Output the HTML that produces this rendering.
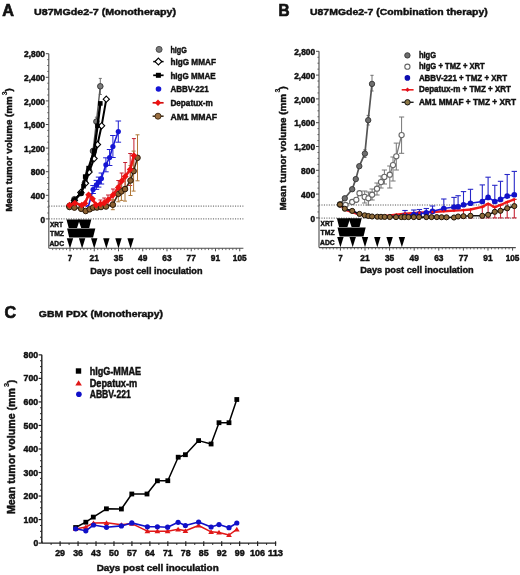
<!DOCTYPE html>
<html><head><meta charset="utf-8"><title>Figure</title>
<style>html,body{margin:0;padding:0;background:#fff;width:520px;height:575px;overflow:hidden;}
body{position:relative;font-family:"Liberation Sans", sans-serif;}</style></head>
<body>
<svg width="520" height="575" viewBox="0 0 520 575" style="position:absolute;left:0;top:0;will-change:transform">
<g font-family='"Liberation Sans", sans-serif'>
<rect width="520" height="575" fill="#fff"/>
<text x="2.2" y="15.8" font-size="16.6" font-weight="bold" fill="#111" stroke="#111" stroke-width="0.45" textLength="11.7" lengthAdjust="spacingAndGlyphs" style="stroke-width:0.7px">A</text>
<text x="34.0" y="15.0" font-size="9.8" font-weight="bold" fill="#111" stroke="#111" stroke-width="0.45" textLength="142.0" lengthAdjust="spacingAndGlyphs">U87MGde2-7 (Monotherapy)</text>
<text x="278.6" y="15.9" font-size="16.6" font-weight="bold" fill="#111" stroke="#111" stroke-width="0.45" textLength="11.1" lengthAdjust="spacingAndGlyphs" style="stroke-width:0.7px">B</text>
<text x="310.0" y="14.9" font-size="9.8" font-weight="bold" fill="#111" stroke="#111" stroke-width="0.45" textLength="177.7" lengthAdjust="spacingAndGlyphs">U87MGde2-7 (Combination therapy)</text>
<text x="4.5" y="318.3" font-size="17.0" font-weight="bold" fill="#111" stroke="#111" stroke-width="0.45" textLength="11.6" lengthAdjust="spacingAndGlyphs" style="stroke-width:0.7px">C</text>
<text x="38.8" y="317.3" font-size="9.8" font-weight="bold" fill="#111" stroke="#111" stroke-width="0.45" textLength="124.2" lengthAdjust="spacingAndGlyphs">GBM PDX (Monotherapy)</text>
<line x1="48.80" y1="53.70" x2="48.80" y2="248.30" stroke="#4a4a4a" stroke-width="1.1"/>
<line x1="45.80" y1="218.90" x2="48.80" y2="218.90" stroke="#4a4a4a" stroke-width="1"/>
<text x="45.0" y="222.6" font-size="8.4" font-weight="bold" fill="#111" stroke="#111" stroke-width="0.45" text-anchor="end" textLength="4.6" lengthAdjust="spacingAndGlyphs">0</text>
<line x1="45.80" y1="195.30" x2="48.80" y2="195.30" stroke="#4a4a4a" stroke-width="1"/>
<text x="45.0" y="199.0" font-size="8.4" font-weight="bold" fill="#111" stroke="#111" stroke-width="0.45" text-anchor="end" textLength="14.2" lengthAdjust="spacingAndGlyphs">400</text>
<line x1="45.80" y1="171.70" x2="48.80" y2="171.70" stroke="#4a4a4a" stroke-width="1"/>
<text x="45.0" y="175.4" font-size="8.4" font-weight="bold" fill="#111" stroke="#111" stroke-width="0.45" text-anchor="end" textLength="14.2" lengthAdjust="spacingAndGlyphs">800</text>
<line x1="45.80" y1="148.10" x2="48.80" y2="148.10" stroke="#4a4a4a" stroke-width="1"/>
<text x="45.0" y="151.8" font-size="8.4" font-weight="bold" fill="#111" stroke="#111" stroke-width="0.45" text-anchor="end" textLength="21.0" lengthAdjust="spacingAndGlyphs">1,200</text>
<line x1="45.80" y1="124.50" x2="48.80" y2="124.50" stroke="#4a4a4a" stroke-width="1"/>
<text x="45.0" y="128.20000000000002" font-size="8.4" font-weight="bold" fill="#111" stroke="#111" stroke-width="0.45" text-anchor="end" textLength="21.0" lengthAdjust="spacingAndGlyphs">1,600</text>
<line x1="45.80" y1="100.90" x2="48.80" y2="100.90" stroke="#4a4a4a" stroke-width="1"/>
<text x="45.0" y="104.60000000000001" font-size="8.4" font-weight="bold" fill="#111" stroke="#111" stroke-width="0.45" text-anchor="end" textLength="21.0" lengthAdjust="spacingAndGlyphs">2,000</text>
<line x1="45.80" y1="77.30" x2="48.80" y2="77.30" stroke="#4a4a4a" stroke-width="1"/>
<text x="45.0" y="81.00000000000001" font-size="8.4" font-weight="bold" fill="#111" stroke="#111" stroke-width="0.45" text-anchor="end" textLength="21.0" lengthAdjust="spacingAndGlyphs">2,400</text>
<line x1="45.80" y1="53.70" x2="48.80" y2="53.70" stroke="#4a4a4a" stroke-width="1"/>
<text x="45.0" y="57.40000000000002" font-size="8.4" font-weight="bold" fill="#111" stroke="#111" stroke-width="0.45" text-anchor="end" textLength="21.0" lengthAdjust="spacingAndGlyphs">2,800</text>
<line x1="47.20" y1="213.00" x2="48.80" y2="213.00" stroke="#4a4a4a" stroke-width="0.8"/>
<line x1="47.20" y1="207.10" x2="48.80" y2="207.10" stroke="#4a4a4a" stroke-width="0.8"/>
<line x1="47.20" y1="201.20" x2="48.80" y2="201.20" stroke="#4a4a4a" stroke-width="0.8"/>
<line x1="47.20" y1="189.40" x2="48.80" y2="189.40" stroke="#4a4a4a" stroke-width="0.8"/>
<line x1="47.20" y1="183.50" x2="48.80" y2="183.50" stroke="#4a4a4a" stroke-width="0.8"/>
<line x1="47.20" y1="177.60" x2="48.80" y2="177.60" stroke="#4a4a4a" stroke-width="0.8"/>
<line x1="47.20" y1="165.80" x2="48.80" y2="165.80" stroke="#4a4a4a" stroke-width="0.8"/>
<line x1="47.20" y1="159.90" x2="48.80" y2="159.90" stroke="#4a4a4a" stroke-width="0.8"/>
<line x1="47.20" y1="154.00" x2="48.80" y2="154.00" stroke="#4a4a4a" stroke-width="0.8"/>
<line x1="47.20" y1="142.20" x2="48.80" y2="142.20" stroke="#4a4a4a" stroke-width="0.8"/>
<line x1="47.20" y1="136.30" x2="48.80" y2="136.30" stroke="#4a4a4a" stroke-width="0.8"/>
<line x1="47.20" y1="130.40" x2="48.80" y2="130.40" stroke="#4a4a4a" stroke-width="0.8"/>
<line x1="47.20" y1="118.60" x2="48.80" y2="118.60" stroke="#4a4a4a" stroke-width="0.8"/>
<line x1="47.20" y1="112.70" x2="48.80" y2="112.70" stroke="#4a4a4a" stroke-width="0.8"/>
<line x1="47.20" y1="106.80" x2="48.80" y2="106.80" stroke="#4a4a4a" stroke-width="0.8"/>
<line x1="47.20" y1="95.00" x2="48.80" y2="95.00" stroke="#4a4a4a" stroke-width="0.8"/>
<line x1="47.20" y1="89.10" x2="48.80" y2="89.10" stroke="#4a4a4a" stroke-width="0.8"/>
<line x1="47.20" y1="83.20" x2="48.80" y2="83.20" stroke="#4a4a4a" stroke-width="0.8"/>
<line x1="47.20" y1="71.40" x2="48.80" y2="71.40" stroke="#4a4a4a" stroke-width="0.8"/>
<line x1="47.20" y1="65.50" x2="48.80" y2="65.50" stroke="#4a4a4a" stroke-width="0.8"/>
<line x1="47.20" y1="59.60" x2="48.80" y2="59.60" stroke="#4a4a4a" stroke-width="0.8"/>
<line x1="48.80" y1="248.30" x2="243.40" y2="248.30" stroke="#4a4a4a" stroke-width="1.1"/>
<line x1="70.00" y1="248.30" x2="70.00" y2="251.30" stroke="#4a4a4a" stroke-width="1"/>
<text x="70.0" y="261.0" font-size="8.4" font-weight="bold" fill="#111" stroke="#111" stroke-width="0.45" text-anchor="middle" textLength="4.4" lengthAdjust="spacingAndGlyphs">7</text>
<line x1="94.25" y1="248.30" x2="94.25" y2="251.30" stroke="#4a4a4a" stroke-width="1"/>
<text x="94.248" y="261.0" font-size="8.4" font-weight="bold" fill="#111" stroke="#111" stroke-width="0.45" text-anchor="middle" textLength="9.3" lengthAdjust="spacingAndGlyphs">21</text>
<line x1="118.50" y1="248.30" x2="118.50" y2="251.30" stroke="#4a4a4a" stroke-width="1"/>
<text x="118.49600000000001" y="261.0" font-size="8.4" font-weight="bold" fill="#111" stroke="#111" stroke-width="0.45" text-anchor="middle" textLength="9.3" lengthAdjust="spacingAndGlyphs">35</text>
<line x1="142.74" y1="248.30" x2="142.74" y2="251.30" stroke="#4a4a4a" stroke-width="1"/>
<text x="142.744" y="261.0" font-size="8.4" font-weight="bold" fill="#111" stroke="#111" stroke-width="0.45" text-anchor="middle" textLength="9.3" lengthAdjust="spacingAndGlyphs">49</text>
<line x1="166.99" y1="248.30" x2="166.99" y2="251.30" stroke="#4a4a4a" stroke-width="1"/>
<text x="166.99200000000002" y="261.0" font-size="8.4" font-weight="bold" fill="#111" stroke="#111" stroke-width="0.45" text-anchor="middle" textLength="9.3" lengthAdjust="spacingAndGlyphs">63</text>
<line x1="191.24" y1="248.30" x2="191.24" y2="251.30" stroke="#4a4a4a" stroke-width="1"/>
<text x="191.24" y="261.0" font-size="8.4" font-weight="bold" fill="#111" stroke="#111" stroke-width="0.45" text-anchor="middle" textLength="9.3" lengthAdjust="spacingAndGlyphs">77</text>
<line x1="215.49" y1="248.30" x2="215.49" y2="251.30" stroke="#4a4a4a" stroke-width="1"/>
<text x="215.488" y="261.0" font-size="8.4" font-weight="bold" fill="#111" stroke="#111" stroke-width="0.45" text-anchor="middle" textLength="9.3" lengthAdjust="spacingAndGlyphs">91</text>
<line x1="239.74" y1="248.30" x2="239.74" y2="251.30" stroke="#4a4a4a" stroke-width="1"/>
<text x="239.736" y="261.0" font-size="8.4" font-weight="bold" fill="#111" stroke="#111" stroke-width="0.45" text-anchor="middle" textLength="13.8" lengthAdjust="spacingAndGlyphs">105</text>
<line x1="52.68" y1="248.30" x2="52.68" y2="250.10" stroke="#4a4a4a" stroke-width="0.8"/>
<line x1="56.14" y1="248.30" x2="56.14" y2="250.10" stroke="#4a4a4a" stroke-width="0.8"/>
<line x1="59.61" y1="248.30" x2="59.61" y2="250.10" stroke="#4a4a4a" stroke-width="0.8"/>
<line x1="63.07" y1="248.30" x2="63.07" y2="250.10" stroke="#4a4a4a" stroke-width="0.8"/>
<line x1="66.54" y1="248.30" x2="66.54" y2="250.10" stroke="#4a4a4a" stroke-width="0.8"/>
<line x1="73.46" y1="248.30" x2="73.46" y2="250.10" stroke="#4a4a4a" stroke-width="0.8"/>
<line x1="76.93" y1="248.30" x2="76.93" y2="250.10" stroke="#4a4a4a" stroke-width="0.8"/>
<line x1="80.39" y1="248.30" x2="80.39" y2="250.10" stroke="#4a4a4a" stroke-width="0.8"/>
<line x1="83.86" y1="248.30" x2="83.86" y2="250.10" stroke="#4a4a4a" stroke-width="0.8"/>
<line x1="87.32" y1="248.30" x2="87.32" y2="250.10" stroke="#4a4a4a" stroke-width="0.8"/>
<line x1="90.78" y1="248.30" x2="90.78" y2="250.10" stroke="#4a4a4a" stroke-width="0.8"/>
<line x1="97.71" y1="248.30" x2="97.71" y2="250.10" stroke="#4a4a4a" stroke-width="0.8"/>
<line x1="101.18" y1="248.30" x2="101.18" y2="250.10" stroke="#4a4a4a" stroke-width="0.8"/>
<line x1="104.64" y1="248.30" x2="104.64" y2="250.10" stroke="#4a4a4a" stroke-width="0.8"/>
<line x1="108.10" y1="248.30" x2="108.10" y2="250.10" stroke="#4a4a4a" stroke-width="0.8"/>
<line x1="111.57" y1="248.30" x2="111.57" y2="250.10" stroke="#4a4a4a" stroke-width="0.8"/>
<line x1="115.03" y1="248.30" x2="115.03" y2="250.10" stroke="#4a4a4a" stroke-width="0.8"/>
<line x1="121.96" y1="248.30" x2="121.96" y2="250.10" stroke="#4a4a4a" stroke-width="0.8"/>
<line x1="125.42" y1="248.30" x2="125.42" y2="250.10" stroke="#4a4a4a" stroke-width="0.8"/>
<line x1="128.89" y1="248.30" x2="128.89" y2="250.10" stroke="#4a4a4a" stroke-width="0.8"/>
<line x1="132.35" y1="248.30" x2="132.35" y2="250.10" stroke="#4a4a4a" stroke-width="0.8"/>
<line x1="135.82" y1="248.30" x2="135.82" y2="250.10" stroke="#4a4a4a" stroke-width="0.8"/>
<line x1="139.28" y1="248.30" x2="139.28" y2="250.10" stroke="#4a4a4a" stroke-width="0.8"/>
<line x1="146.21" y1="248.30" x2="146.21" y2="250.10" stroke="#4a4a4a" stroke-width="0.8"/>
<line x1="149.67" y1="248.30" x2="149.67" y2="250.10" stroke="#4a4a4a" stroke-width="0.8"/>
<line x1="153.14" y1="248.30" x2="153.14" y2="250.10" stroke="#4a4a4a" stroke-width="0.8"/>
<line x1="156.60" y1="248.30" x2="156.60" y2="250.10" stroke="#4a4a4a" stroke-width="0.8"/>
<line x1="160.06" y1="248.30" x2="160.06" y2="250.10" stroke="#4a4a4a" stroke-width="0.8"/>
<line x1="163.53" y1="248.30" x2="163.53" y2="250.10" stroke="#4a4a4a" stroke-width="0.8"/>
<line x1="170.46" y1="248.30" x2="170.46" y2="250.10" stroke="#4a4a4a" stroke-width="0.8"/>
<line x1="173.92" y1="248.30" x2="173.92" y2="250.10" stroke="#4a4a4a" stroke-width="0.8"/>
<line x1="177.38" y1="248.30" x2="177.38" y2="250.10" stroke="#4a4a4a" stroke-width="0.8"/>
<line x1="180.85" y1="248.30" x2="180.85" y2="250.10" stroke="#4a4a4a" stroke-width="0.8"/>
<line x1="184.31" y1="248.30" x2="184.31" y2="250.10" stroke="#4a4a4a" stroke-width="0.8"/>
<line x1="187.78" y1="248.30" x2="187.78" y2="250.10" stroke="#4a4a4a" stroke-width="0.8"/>
<line x1="194.70" y1="248.30" x2="194.70" y2="250.10" stroke="#4a4a4a" stroke-width="0.8"/>
<line x1="198.17" y1="248.30" x2="198.17" y2="250.10" stroke="#4a4a4a" stroke-width="0.8"/>
<line x1="201.63" y1="248.30" x2="201.63" y2="250.10" stroke="#4a4a4a" stroke-width="0.8"/>
<line x1="205.10" y1="248.30" x2="205.10" y2="250.10" stroke="#4a4a4a" stroke-width="0.8"/>
<line x1="208.56" y1="248.30" x2="208.56" y2="250.10" stroke="#4a4a4a" stroke-width="0.8"/>
<line x1="212.02" y1="248.30" x2="212.02" y2="250.10" stroke="#4a4a4a" stroke-width="0.8"/>
<line x1="218.95" y1="248.30" x2="218.95" y2="250.10" stroke="#4a4a4a" stroke-width="0.8"/>
<line x1="222.42" y1="248.30" x2="222.42" y2="250.10" stroke="#4a4a4a" stroke-width="0.8"/>
<line x1="225.88" y1="248.30" x2="225.88" y2="250.10" stroke="#4a4a4a" stroke-width="0.8"/>
<line x1="229.34" y1="248.30" x2="229.34" y2="250.10" stroke="#4a4a4a" stroke-width="0.8"/>
<line x1="232.81" y1="248.30" x2="232.81" y2="250.10" stroke="#4a4a4a" stroke-width="0.8"/>
<line x1="236.27" y1="248.30" x2="236.27" y2="250.10" stroke="#4a4a4a" stroke-width="0.8"/>
<line x1="48.80" y1="206.10" x2="243.40" y2="206.10" stroke="#555" stroke-width="1" stroke-dasharray="1.1 1.35"/>
<line x1="48.80" y1="218.90" x2="243.40" y2="218.90" stroke="#555" stroke-width="1" stroke-dasharray="1.1 1.35"/>
<polygon points="66.50,219.40 79.80,219.40 77.00,228.00 68.70,228.00" fill="#000"/>
<polygon points="78.20,219.40 91.30,219.40 89.20,228.00 81.20,228.00" fill="#000"/>
<polygon points="67.10,228.60 95.30,228.60 93.10,237.60 69.20,237.60" fill="#000"/>
<polygon points="66.80,238.20 73.20,238.20 70.00,248.40" fill="#000"/>
<polygon points="78.92,238.20 85.32,238.20 82.12,248.40" fill="#000"/>
<polygon points="91.05,238.20 97.45,238.20 94.25,248.40" fill="#000"/>
<polygon points="103.17,238.20 109.57,238.20 106.37,248.40" fill="#000"/>
<polygon points="115.30,238.20 121.70,238.20 118.50,248.40" fill="#000"/>
<polygon points="127.42,238.20 133.82,238.20 130.62,248.40" fill="#000"/>
<text x="50.0" y="227.0" font-size="7.4" font-weight="bold" fill="#111" stroke="#111" stroke-width="0.45" textLength="13.0" lengthAdjust="spacingAndGlyphs">XRT</text>
<text x="50.0" y="236.4" font-size="7.4" font-weight="bold" fill="#111" stroke="#111" stroke-width="0.45" textLength="14.0" lengthAdjust="spacingAndGlyphs">TMZ</text>
<text x="49.5" y="246.4" font-size="7.4" font-weight="bold" fill="#111" stroke="#111" stroke-width="0.45" textLength="14.6" lengthAdjust="spacingAndGlyphs">ADC</text>
<text x="90.2" y="273.6" font-size="9.6" font-weight="bold" fill="#111" stroke="#111" stroke-width="0.45" textLength="112.3" lengthAdjust="spacingAndGlyphs">Days post cell inoculation</text>
<g transform="translate(12.2,211.8) rotate(-90)">
<text x="0" y="0" font-size="9.6" font-weight="bold" fill="#111" stroke="#111" stroke-width="0.45" textLength="115.5" lengthAdjust="spacingAndGlyphs">Mean tumor volume (mm</text>
<text x="116.6" y="-5.4" font-size="6.8" font-weight="bold" fill="#111" stroke="#111" stroke-width="0.2">3</text>
<text x="120.2" y="0" font-size="9.6" font-weight="bold" fill="#111" stroke="#111" stroke-width="0.45">)</text>
</g>
<line x1="319.00" y1="51.30" x2="319.00" y2="247.60" stroke="#4a4a4a" stroke-width="1.1"/>
<line x1="316.00" y1="217.90" x2="319.00" y2="217.90" stroke="#4a4a4a" stroke-width="1"/>
<text x="315.2" y="221.6" font-size="8.4" font-weight="bold" fill="#111" stroke="#111" stroke-width="0.45" text-anchor="end" textLength="4.6" lengthAdjust="spacingAndGlyphs">0</text>
<line x1="316.00" y1="194.10" x2="319.00" y2="194.10" stroke="#4a4a4a" stroke-width="1"/>
<text x="315.2" y="197.8" font-size="8.4" font-weight="bold" fill="#111" stroke="#111" stroke-width="0.45" text-anchor="end" textLength="14.2" lengthAdjust="spacingAndGlyphs">400</text>
<line x1="316.00" y1="170.30" x2="319.00" y2="170.30" stroke="#4a4a4a" stroke-width="1"/>
<text x="315.2" y="174.0" font-size="8.4" font-weight="bold" fill="#111" stroke="#111" stroke-width="0.45" text-anchor="end" textLength="14.2" lengthAdjust="spacingAndGlyphs">800</text>
<line x1="316.00" y1="146.50" x2="319.00" y2="146.50" stroke="#4a4a4a" stroke-width="1"/>
<text x="315.2" y="150.2" font-size="8.4" font-weight="bold" fill="#111" stroke="#111" stroke-width="0.45" text-anchor="end" textLength="21.0" lengthAdjust="spacingAndGlyphs">1,200</text>
<line x1="316.00" y1="122.70" x2="319.00" y2="122.70" stroke="#4a4a4a" stroke-width="1"/>
<text x="315.2" y="126.40000000000002" font-size="8.4" font-weight="bold" fill="#111" stroke="#111" stroke-width="0.45" text-anchor="end" textLength="21.0" lengthAdjust="spacingAndGlyphs">1,600</text>
<line x1="316.00" y1="98.90" x2="319.00" y2="98.90" stroke="#4a4a4a" stroke-width="1"/>
<text x="315.2" y="102.60000000000001" font-size="8.4" font-weight="bold" fill="#111" stroke="#111" stroke-width="0.45" text-anchor="end" textLength="21.0" lengthAdjust="spacingAndGlyphs">2,000</text>
<line x1="316.00" y1="75.10" x2="319.00" y2="75.10" stroke="#4a4a4a" stroke-width="1"/>
<text x="315.2" y="78.80000000000003" font-size="8.4" font-weight="bold" fill="#111" stroke="#111" stroke-width="0.45" text-anchor="end" textLength="21.0" lengthAdjust="spacingAndGlyphs">2,400</text>
<line x1="316.00" y1="51.30" x2="319.00" y2="51.30" stroke="#4a4a4a" stroke-width="1"/>
<text x="315.2" y="55.000000000000014" font-size="8.4" font-weight="bold" fill="#111" stroke="#111" stroke-width="0.45" text-anchor="end" textLength="21.0" lengthAdjust="spacingAndGlyphs">2,800</text>
<line x1="317.40" y1="211.95" x2="319.00" y2="211.95" stroke="#4a4a4a" stroke-width="0.8"/>
<line x1="317.40" y1="206.00" x2="319.00" y2="206.00" stroke="#4a4a4a" stroke-width="0.8"/>
<line x1="317.40" y1="200.05" x2="319.00" y2="200.05" stroke="#4a4a4a" stroke-width="0.8"/>
<line x1="317.40" y1="188.15" x2="319.00" y2="188.15" stroke="#4a4a4a" stroke-width="0.8"/>
<line x1="317.40" y1="182.20" x2="319.00" y2="182.20" stroke="#4a4a4a" stroke-width="0.8"/>
<line x1="317.40" y1="176.25" x2="319.00" y2="176.25" stroke="#4a4a4a" stroke-width="0.8"/>
<line x1="317.40" y1="164.35" x2="319.00" y2="164.35" stroke="#4a4a4a" stroke-width="0.8"/>
<line x1="317.40" y1="158.40" x2="319.00" y2="158.40" stroke="#4a4a4a" stroke-width="0.8"/>
<line x1="317.40" y1="152.45" x2="319.00" y2="152.45" stroke="#4a4a4a" stroke-width="0.8"/>
<line x1="317.40" y1="140.55" x2="319.00" y2="140.55" stroke="#4a4a4a" stroke-width="0.8"/>
<line x1="317.40" y1="134.60" x2="319.00" y2="134.60" stroke="#4a4a4a" stroke-width="0.8"/>
<line x1="317.40" y1="128.65" x2="319.00" y2="128.65" stroke="#4a4a4a" stroke-width="0.8"/>
<line x1="317.40" y1="116.75" x2="319.00" y2="116.75" stroke="#4a4a4a" stroke-width="0.8"/>
<line x1="317.40" y1="110.80" x2="319.00" y2="110.80" stroke="#4a4a4a" stroke-width="0.8"/>
<line x1="317.40" y1="104.85" x2="319.00" y2="104.85" stroke="#4a4a4a" stroke-width="0.8"/>
<line x1="317.40" y1="92.95" x2="319.00" y2="92.95" stroke="#4a4a4a" stroke-width="0.8"/>
<line x1="317.40" y1="87.00" x2="319.00" y2="87.00" stroke="#4a4a4a" stroke-width="0.8"/>
<line x1="317.40" y1="81.05" x2="319.00" y2="81.05" stroke="#4a4a4a" stroke-width="0.8"/>
<line x1="317.40" y1="69.15" x2="319.00" y2="69.15" stroke="#4a4a4a" stroke-width="0.8"/>
<line x1="317.40" y1="63.20" x2="319.00" y2="63.20" stroke="#4a4a4a" stroke-width="0.8"/>
<line x1="317.40" y1="57.25" x2="319.00" y2="57.25" stroke="#4a4a4a" stroke-width="0.8"/>
<line x1="319.00" y1="247.60" x2="515.80" y2="247.60" stroke="#4a4a4a" stroke-width="1.1"/>
<line x1="340.40" y1="247.60" x2="340.40" y2="250.60" stroke="#4a4a4a" stroke-width="1"/>
<text x="340.4" y="260.5" font-size="8.4" font-weight="bold" fill="#111" stroke="#111" stroke-width="0.45" text-anchor="middle" textLength="4.4" lengthAdjust="spacingAndGlyphs">7</text>
<line x1="365.00" y1="247.60" x2="365.00" y2="250.60" stroke="#4a4a4a" stroke-width="1"/>
<text x="364.998" y="260.5" font-size="8.4" font-weight="bold" fill="#111" stroke="#111" stroke-width="0.45" text-anchor="middle" textLength="9.3" lengthAdjust="spacingAndGlyphs">21</text>
<line x1="389.60" y1="247.60" x2="389.60" y2="250.60" stroke="#4a4a4a" stroke-width="1"/>
<text x="389.596" y="260.5" font-size="8.4" font-weight="bold" fill="#111" stroke="#111" stroke-width="0.45" text-anchor="middle" textLength="9.3" lengthAdjust="spacingAndGlyphs">35</text>
<line x1="414.19" y1="247.60" x2="414.19" y2="250.60" stroke="#4a4a4a" stroke-width="1"/>
<text x="414.19399999999996" y="260.5" font-size="8.4" font-weight="bold" fill="#111" stroke="#111" stroke-width="0.45" text-anchor="middle" textLength="9.3" lengthAdjust="spacingAndGlyphs">49</text>
<line x1="438.79" y1="247.60" x2="438.79" y2="250.60" stroke="#4a4a4a" stroke-width="1"/>
<text x="438.792" y="260.5" font-size="8.4" font-weight="bold" fill="#111" stroke="#111" stroke-width="0.45" text-anchor="middle" textLength="9.3" lengthAdjust="spacingAndGlyphs">63</text>
<line x1="463.39" y1="247.60" x2="463.39" y2="250.60" stroke="#4a4a4a" stroke-width="1"/>
<text x="463.39" y="260.5" font-size="8.4" font-weight="bold" fill="#111" stroke="#111" stroke-width="0.45" text-anchor="middle" textLength="9.3" lengthAdjust="spacingAndGlyphs">77</text>
<line x1="487.99" y1="247.60" x2="487.99" y2="250.60" stroke="#4a4a4a" stroke-width="1"/>
<text x="487.98799999999994" y="260.5" font-size="8.4" font-weight="bold" fill="#111" stroke="#111" stroke-width="0.45" text-anchor="middle" textLength="9.3" lengthAdjust="spacingAndGlyphs">91</text>
<line x1="512.59" y1="247.60" x2="512.59" y2="250.60" stroke="#4a4a4a" stroke-width="1"/>
<text x="512.586" y="260.5" font-size="8.4" font-weight="bold" fill="#111" stroke="#111" stroke-width="0.45" text-anchor="middle" textLength="13.8" lengthAdjust="spacingAndGlyphs">105</text>
<line x1="322.83" y1="247.60" x2="322.83" y2="249.40" stroke="#4a4a4a" stroke-width="0.8"/>
<line x1="326.34" y1="247.60" x2="326.34" y2="249.40" stroke="#4a4a4a" stroke-width="0.8"/>
<line x1="329.86" y1="247.60" x2="329.86" y2="249.40" stroke="#4a4a4a" stroke-width="0.8"/>
<line x1="333.37" y1="247.60" x2="333.37" y2="249.40" stroke="#4a4a4a" stroke-width="0.8"/>
<line x1="336.89" y1="247.60" x2="336.89" y2="249.40" stroke="#4a4a4a" stroke-width="0.8"/>
<line x1="343.91" y1="247.60" x2="343.91" y2="249.40" stroke="#4a4a4a" stroke-width="0.8"/>
<line x1="347.43" y1="247.60" x2="347.43" y2="249.40" stroke="#4a4a4a" stroke-width="0.8"/>
<line x1="350.94" y1="247.60" x2="350.94" y2="249.40" stroke="#4a4a4a" stroke-width="0.8"/>
<line x1="354.46" y1="247.60" x2="354.46" y2="249.40" stroke="#4a4a4a" stroke-width="0.8"/>
<line x1="357.97" y1="247.60" x2="357.97" y2="249.40" stroke="#4a4a4a" stroke-width="0.8"/>
<line x1="361.48" y1="247.60" x2="361.48" y2="249.40" stroke="#4a4a4a" stroke-width="0.8"/>
<line x1="368.51" y1="247.60" x2="368.51" y2="249.40" stroke="#4a4a4a" stroke-width="0.8"/>
<line x1="372.03" y1="247.60" x2="372.03" y2="249.40" stroke="#4a4a4a" stroke-width="0.8"/>
<line x1="375.54" y1="247.60" x2="375.54" y2="249.40" stroke="#4a4a4a" stroke-width="0.8"/>
<line x1="379.05" y1="247.60" x2="379.05" y2="249.40" stroke="#4a4a4a" stroke-width="0.8"/>
<line x1="382.57" y1="247.60" x2="382.57" y2="249.40" stroke="#4a4a4a" stroke-width="0.8"/>
<line x1="386.08" y1="247.60" x2="386.08" y2="249.40" stroke="#4a4a4a" stroke-width="0.8"/>
<line x1="393.11" y1="247.60" x2="393.11" y2="249.40" stroke="#4a4a4a" stroke-width="0.8"/>
<line x1="396.62" y1="247.60" x2="396.62" y2="249.40" stroke="#4a4a4a" stroke-width="0.8"/>
<line x1="400.14" y1="247.60" x2="400.14" y2="249.40" stroke="#4a4a4a" stroke-width="0.8"/>
<line x1="403.65" y1="247.60" x2="403.65" y2="249.40" stroke="#4a4a4a" stroke-width="0.8"/>
<line x1="407.17" y1="247.60" x2="407.17" y2="249.40" stroke="#4a4a4a" stroke-width="0.8"/>
<line x1="410.68" y1="247.60" x2="410.68" y2="249.40" stroke="#4a4a4a" stroke-width="0.8"/>
<line x1="417.71" y1="247.60" x2="417.71" y2="249.40" stroke="#4a4a4a" stroke-width="0.8"/>
<line x1="421.22" y1="247.60" x2="421.22" y2="249.40" stroke="#4a4a4a" stroke-width="0.8"/>
<line x1="424.74" y1="247.60" x2="424.74" y2="249.40" stroke="#4a4a4a" stroke-width="0.8"/>
<line x1="428.25" y1="247.60" x2="428.25" y2="249.40" stroke="#4a4a4a" stroke-width="0.8"/>
<line x1="431.76" y1="247.60" x2="431.76" y2="249.40" stroke="#4a4a4a" stroke-width="0.8"/>
<line x1="435.28" y1="247.60" x2="435.28" y2="249.40" stroke="#4a4a4a" stroke-width="0.8"/>
<line x1="442.31" y1="247.60" x2="442.31" y2="249.40" stroke="#4a4a4a" stroke-width="0.8"/>
<line x1="445.82" y1="247.60" x2="445.82" y2="249.40" stroke="#4a4a4a" stroke-width="0.8"/>
<line x1="449.33" y1="247.60" x2="449.33" y2="249.40" stroke="#4a4a4a" stroke-width="0.8"/>
<line x1="452.85" y1="247.60" x2="452.85" y2="249.40" stroke="#4a4a4a" stroke-width="0.8"/>
<line x1="456.36" y1="247.60" x2="456.36" y2="249.40" stroke="#4a4a4a" stroke-width="0.8"/>
<line x1="459.88" y1="247.60" x2="459.88" y2="249.40" stroke="#4a4a4a" stroke-width="0.8"/>
<line x1="466.90" y1="247.60" x2="466.90" y2="249.40" stroke="#4a4a4a" stroke-width="0.8"/>
<line x1="470.42" y1="247.60" x2="470.42" y2="249.40" stroke="#4a4a4a" stroke-width="0.8"/>
<line x1="473.93" y1="247.60" x2="473.93" y2="249.40" stroke="#4a4a4a" stroke-width="0.8"/>
<line x1="477.45" y1="247.60" x2="477.45" y2="249.40" stroke="#4a4a4a" stroke-width="0.8"/>
<line x1="480.96" y1="247.60" x2="480.96" y2="249.40" stroke="#4a4a4a" stroke-width="0.8"/>
<line x1="484.47" y1="247.60" x2="484.47" y2="249.40" stroke="#4a4a4a" stroke-width="0.8"/>
<line x1="491.50" y1="247.60" x2="491.50" y2="249.40" stroke="#4a4a4a" stroke-width="0.8"/>
<line x1="495.02" y1="247.60" x2="495.02" y2="249.40" stroke="#4a4a4a" stroke-width="0.8"/>
<line x1="498.53" y1="247.60" x2="498.53" y2="249.40" stroke="#4a4a4a" stroke-width="0.8"/>
<line x1="502.04" y1="247.60" x2="502.04" y2="249.40" stroke="#4a4a4a" stroke-width="0.8"/>
<line x1="505.56" y1="247.60" x2="505.56" y2="249.40" stroke="#4a4a4a" stroke-width="0.8"/>
<line x1="509.07" y1="247.60" x2="509.07" y2="249.40" stroke="#4a4a4a" stroke-width="0.8"/>
<line x1="319.00" y1="205.00" x2="515.80" y2="205.00" stroke="#555" stroke-width="1" stroke-dasharray="1.1 1.35"/>
<line x1="319.00" y1="218.10" x2="515.80" y2="218.10" stroke="#555" stroke-width="1" stroke-dasharray="1.1 1.35"/>
<polygon points="336.90,218.30 350.20,218.30 347.40,226.90 339.10,226.90" fill="#000"/>
<polygon points="348.60,218.30 361.70,218.30 359.60,226.90 351.60,226.90" fill="#000"/>
<polygon points="337.50,227.50 365.70,227.50 363.50,236.50 339.60,236.50" fill="#000"/>
<polygon points="337.20,237.10 343.60,237.10 340.40,247.30" fill="#000"/>
<polygon points="349.50,237.10 355.90,237.10 352.70,247.30" fill="#000"/>
<polygon points="361.80,237.10 368.20,237.10 365.00,247.30" fill="#000"/>
<polygon points="374.10,237.10 380.50,237.10 377.30,247.30" fill="#000"/>
<polygon points="386.40,237.10 392.80,237.10 389.60,247.30" fill="#000"/>
<polygon points="398.69,237.10 405.09,237.10 401.89,247.30" fill="#000"/>
<text x="320.6" y="225.9" font-size="7.4" font-weight="bold" fill="#111" stroke="#111" stroke-width="0.45" textLength="13.0" lengthAdjust="spacingAndGlyphs">XRT</text>
<text x="320.6" y="235.3" font-size="7.4" font-weight="bold" fill="#111" stroke="#111" stroke-width="0.45" textLength="14.0" lengthAdjust="spacingAndGlyphs">TMZ</text>
<text x="320.1" y="245.3" font-size="7.4" font-weight="bold" fill="#111" stroke="#111" stroke-width="0.45" textLength="14.6" lengthAdjust="spacingAndGlyphs">ADC</text>
<text x="360.2" y="272.9" font-size="9.6" font-weight="bold" fill="#111" stroke="#111" stroke-width="0.45" textLength="113.5" lengthAdjust="spacingAndGlyphs">Days post cell inoculation</text>
<g transform="translate(285.6,210.6) rotate(-90)">
<text x="0" y="0" font-size="9.6" font-weight="bold" fill="#111" stroke="#111" stroke-width="0.45" textLength="116.7" lengthAdjust="spacingAndGlyphs">Mean tumor volume (mm</text>
<text x="118.0" y="-5.6" font-size="7.0" font-weight="bold" fill="#111" stroke="#111" stroke-width="0.2">3</text>
<text x="121.2" y="0" font-size="9.6" font-weight="bold" fill="#111" stroke="#111" stroke-width="0.45">)</text>
</g>
<line x1="96.40" y1="117.20" x2="96.40" y2="126.00" stroke="#707070" stroke-width="1"/>
<line x1="94.90" y1="117.20" x2="97.90" y2="117.20" stroke="#707070" stroke-width="1"/>
<line x1="94.90" y1="126.00" x2="97.90" y2="126.00" stroke="#707070" stroke-width="1"/>
<line x1="100.30" y1="78.40" x2="100.30" y2="94.50" stroke="#707070" stroke-width="1"/>
<line x1="98.80" y1="78.40" x2="101.80" y2="78.40" stroke="#707070" stroke-width="1"/>
<line x1="98.80" y1="94.50" x2="101.80" y2="94.50" stroke="#707070" stroke-width="1"/>
<line x1="93.10" y1="185.50" x2="93.10" y2="193.50" stroke="#2020d0" stroke-width="1"/>
<line x1="90.30" y1="185.50" x2="95.90" y2="185.50" stroke="#2020d0" stroke-width="1"/>
<line x1="90.30" y1="193.50" x2="95.90" y2="193.50" stroke="#2020d0" stroke-width="1"/>
<line x1="96.40" y1="180.40" x2="96.40" y2="189.40" stroke="#2020d0" stroke-width="1"/>
<line x1="93.60" y1="180.40" x2="99.20" y2="180.40" stroke="#2020d0" stroke-width="1"/>
<line x1="93.60" y1="189.40" x2="99.20" y2="189.40" stroke="#2020d0" stroke-width="1"/>
<line x1="98.60" y1="177.10" x2="98.60" y2="187.10" stroke="#2020d0" stroke-width="1"/>
<line x1="95.80" y1="177.10" x2="101.40" y2="177.10" stroke="#2020d0" stroke-width="1"/>
<line x1="95.80" y1="187.10" x2="101.40" y2="187.10" stroke="#2020d0" stroke-width="1"/>
<line x1="101.40" y1="173.00" x2="101.40" y2="184.00" stroke="#2020d0" stroke-width="1"/>
<line x1="98.60" y1="173.00" x2="104.20" y2="173.00" stroke="#2020d0" stroke-width="1"/>
<line x1="98.60" y1="184.00" x2="104.20" y2="184.00" stroke="#2020d0" stroke-width="1"/>
<line x1="105.90" y1="157.80" x2="105.90" y2="171.80" stroke="#2020d0" stroke-width="1"/>
<line x1="103.10" y1="157.80" x2="108.70" y2="157.80" stroke="#2020d0" stroke-width="1"/>
<line x1="103.10" y1="171.80" x2="108.70" y2="171.80" stroke="#2020d0" stroke-width="1"/>
<line x1="109.60" y1="149.50" x2="109.60" y2="165.50" stroke="#2020d0" stroke-width="1"/>
<line x1="106.80" y1="149.50" x2="112.40" y2="149.50" stroke="#2020d0" stroke-width="1"/>
<line x1="106.80" y1="165.50" x2="112.40" y2="165.50" stroke="#2020d0" stroke-width="1"/>
<line x1="112.90" y1="135.50" x2="112.90" y2="157.50" stroke="#2020d0" stroke-width="1"/>
<line x1="110.10" y1="135.50" x2="115.70" y2="135.50" stroke="#2020d0" stroke-width="1"/>
<line x1="110.10" y1="157.50" x2="115.70" y2="157.50" stroke="#2020d0" stroke-width="1"/>
<line x1="118.30" y1="121.00" x2="118.30" y2="142.20" stroke="#2020d0" stroke-width="1"/>
<line x1="115.50" y1="121.00" x2="121.10" y2="121.00" stroke="#2020d0" stroke-width="1"/>
<line x1="115.50" y1="142.20" x2="121.10" y2="142.20" stroke="#2020d0" stroke-width="1"/>
<line x1="100.50" y1="200.00" x2="100.50" y2="208.00" stroke="#c42030" stroke-width="1.0"/>
<line x1="98.50" y1="200.00" x2="102.50" y2="200.00" stroke="#c42030" stroke-width="1.0"/>
<line x1="98.50" y1="208.00" x2="102.50" y2="208.00" stroke="#c42030" stroke-width="1.0"/>
<line x1="104.20" y1="198.00" x2="104.20" y2="208.00" stroke="#c42030" stroke-width="1.0"/>
<line x1="102.20" y1="198.00" x2="106.20" y2="198.00" stroke="#c42030" stroke-width="1.0"/>
<line x1="102.20" y1="208.00" x2="106.20" y2="208.00" stroke="#c42030" stroke-width="1.0"/>
<line x1="108.00" y1="195.00" x2="108.00" y2="205.00" stroke="#c42030" stroke-width="1.0"/>
<line x1="106.00" y1="195.00" x2="110.00" y2="195.00" stroke="#c42030" stroke-width="1.0"/>
<line x1="106.00" y1="205.00" x2="110.00" y2="205.00" stroke="#c42030" stroke-width="1.0"/>
<line x1="113.00" y1="189.00" x2="113.00" y2="201.00" stroke="#c42030" stroke-width="1.0"/>
<line x1="111.00" y1="189.00" x2="115.00" y2="189.00" stroke="#c42030" stroke-width="1.0"/>
<line x1="111.00" y1="201.00" x2="115.00" y2="201.00" stroke="#c42030" stroke-width="1.0"/>
<line x1="118.30" y1="180.50" x2="118.30" y2="194.50" stroke="#c42030" stroke-width="1.0"/>
<line x1="116.30" y1="180.50" x2="120.30" y2="180.50" stroke="#c42030" stroke-width="1.0"/>
<line x1="116.30" y1="194.50" x2="120.30" y2="194.50" stroke="#c42030" stroke-width="1.0"/>
<line x1="121.70" y1="173.00" x2="121.70" y2="189.00" stroke="#c42030" stroke-width="1.0"/>
<line x1="119.70" y1="173.00" x2="123.70" y2="173.00" stroke="#c42030" stroke-width="1.0"/>
<line x1="119.70" y1="189.00" x2="123.70" y2="189.00" stroke="#c42030" stroke-width="1.0"/>
<line x1="125.20" y1="162.50" x2="125.20" y2="190.50" stroke="#c42030" stroke-width="1.0"/>
<line x1="123.20" y1="162.50" x2="127.20" y2="162.50" stroke="#c42030" stroke-width="1.0"/>
<line x1="123.20" y1="190.50" x2="127.20" y2="190.50" stroke="#c42030" stroke-width="1.0"/>
<line x1="130.20" y1="153.50" x2="130.20" y2="185.50" stroke="#c42030" stroke-width="1.0"/>
<line x1="128.20" y1="153.50" x2="132.20" y2="153.50" stroke="#c42030" stroke-width="1.0"/>
<line x1="128.20" y1="185.50" x2="132.20" y2="185.50" stroke="#c42030" stroke-width="1.0"/>
<line x1="133.90" y1="138.60" x2="133.90" y2="172.60" stroke="#c42030" stroke-width="1.0"/>
<line x1="131.90" y1="138.60" x2="135.90" y2="138.60" stroke="#c42030" stroke-width="1.0"/>
<line x1="131.90" y1="172.60" x2="135.90" y2="172.60" stroke="#c42030" stroke-width="1.0"/>
<line x1="112.80" y1="199.70" x2="112.80" y2="209.70" stroke="#b07838" stroke-width="1.0"/>
<line x1="110.80" y1="199.70" x2="114.80" y2="199.70" stroke="#b07838" stroke-width="1.0"/>
<line x1="110.80" y1="209.70" x2="114.80" y2="209.70" stroke="#b07838" stroke-width="1.0"/>
<line x1="118.30" y1="185.80" x2="118.30" y2="201.80" stroke="#b07838" stroke-width="1.0"/>
<line x1="116.30" y1="185.80" x2="120.30" y2="185.80" stroke="#b07838" stroke-width="1.0"/>
<line x1="116.30" y1="201.80" x2="120.30" y2="201.80" stroke="#b07838" stroke-width="1.0"/>
<line x1="121.40" y1="182.40" x2="121.40" y2="200.40" stroke="#b07838" stroke-width="1.0"/>
<line x1="119.40" y1="182.40" x2="123.40" y2="182.40" stroke="#b07838" stroke-width="1.0"/>
<line x1="119.40" y1="200.40" x2="123.40" y2="200.40" stroke="#b07838" stroke-width="1.0"/>
<line x1="125.00" y1="177.10" x2="125.00" y2="201.10" stroke="#b07838" stroke-width="1.0"/>
<line x1="123.00" y1="177.10" x2="127.00" y2="177.10" stroke="#b07838" stroke-width="1.0"/>
<line x1="123.00" y1="201.10" x2="127.00" y2="201.10" stroke="#b07838" stroke-width="1.0"/>
<line x1="130.50" y1="165.50" x2="130.50" y2="195.50" stroke="#b07838" stroke-width="1.0"/>
<line x1="128.50" y1="165.50" x2="132.50" y2="165.50" stroke="#b07838" stroke-width="1.0"/>
<line x1="128.50" y1="195.50" x2="132.50" y2="195.50" stroke="#b07838" stroke-width="1.0"/>
<line x1="133.60" y1="151.10" x2="133.60" y2="191.10" stroke="#b07838" stroke-width="1.0"/>
<line x1="131.60" y1="151.10" x2="135.60" y2="151.10" stroke="#b07838" stroke-width="1.0"/>
<line x1="131.60" y1="191.10" x2="135.60" y2="191.10" stroke="#b07838" stroke-width="1.0"/>
<line x1="137.50" y1="134.80" x2="137.50" y2="180.80" stroke="#b07838" stroke-width="1.0"/>
<line x1="135.50" y1="134.80" x2="139.50" y2="134.80" stroke="#b07838" stroke-width="1.0"/>
<line x1="135.50" y1="180.80" x2="139.50" y2="180.80" stroke="#b07838" stroke-width="1.0"/>
<polyline points="85.70,206.50 88.60,205.50 93.10,189.50 96.40,184.90 98.60,182.10 101.40,178.50 105.90,164.80 109.60,157.50 112.90,146.50 118.30,131.60" fill="none" stroke="#1818d8" stroke-width="1.6" stroke-linejoin="round"/>
<circle cx="93.10" cy="189.50" r="2.6" fill="#1515d5" stroke="none" stroke-width="0"/>
<circle cx="96.40" cy="184.90" r="2.6" fill="#1515d5" stroke="none" stroke-width="0"/>
<circle cx="98.60" cy="182.10" r="2.6" fill="#1515d5" stroke="none" stroke-width="0"/>
<circle cx="101.40" cy="178.50" r="2.6" fill="#1515d5" stroke="none" stroke-width="0"/>
<circle cx="105.90" cy="164.80" r="2.6" fill="#1515d5" stroke="none" stroke-width="0"/>
<circle cx="109.60" cy="157.50" r="2.6" fill="#1515d5" stroke="none" stroke-width="0"/>
<circle cx="112.90" cy="146.50" r="2.6" fill="#1515d5" stroke="none" stroke-width="0"/>
<circle cx="118.30" cy="131.60" r="2.6" fill="#1515d5" stroke="none" stroke-width="0"/>
<polyline points="69.50,206.00 74.40,199.20 81.20,193.00 85.00,182.50 89.00,170.50 93.00,151.00 96.40,121.60 100.30,86.30" fill="none" stroke="#5a5a5a" stroke-width="1.4" stroke-linejoin="round"/>
<circle cx="69.50" cy="206.00" r="2.8" fill="#7a7a7a" stroke="#303030" stroke-width="0.9"/>
<circle cx="74.40" cy="199.20" r="2.8" fill="#7a7a7a" stroke="#303030" stroke-width="0.9"/>
<circle cx="81.20" cy="193.00" r="2.8" fill="#7a7a7a" stroke="#303030" stroke-width="0.9"/>
<circle cx="85.00" cy="182.50" r="2.8" fill="#7a7a7a" stroke="#303030" stroke-width="0.9"/>
<circle cx="89.00" cy="170.50" r="2.8" fill="#7a7a7a" stroke="#303030" stroke-width="0.9"/>
<circle cx="93.00" cy="151.00" r="2.8" fill="#7a7a7a" stroke="#303030" stroke-width="0.9"/>
<circle cx="96.40" cy="121.60" r="2.8" fill="#7a7a7a" stroke="#303030" stroke-width="0.9"/>
<circle cx="100.30" cy="86.30" r="2.8" fill="#7a7a7a" stroke="#303030" stroke-width="0.9"/>
<polyline points="69.50,206.00 74.40,200.50 80.80,192.50 85.50,183.30 89.10,172.00 94.10,158.60 97.50,144.50 101.60,125.80 106.30,99.20" fill="none" stroke="#000" stroke-width="2.0" stroke-linejoin="round"/>
<polygon points="69.50,202.90 72.60,206.00 69.50,209.10 66.40,206.00" fill="#fff" stroke="#000" stroke-width="1.1"/>
<polygon points="74.40,197.40 77.50,200.50 74.40,203.60 71.30,200.50" fill="#fff" stroke="#000" stroke-width="1.1"/>
<polygon points="80.80,189.40 83.90,192.50 80.80,195.60 77.70,192.50" fill="#fff" stroke="#000" stroke-width="1.1"/>
<polygon points="85.50,180.20 88.60,183.30 85.50,186.40 82.40,183.30" fill="#fff" stroke="#000" stroke-width="1.1"/>
<polygon points="89.10,168.90 92.20,172.00 89.10,175.10 86.00,172.00" fill="#fff" stroke="#000" stroke-width="1.1"/>
<polygon points="94.10,155.50 97.20,158.60 94.10,161.70 91.00,158.60" fill="#fff" stroke="#000" stroke-width="1.1"/>
<polygon points="97.50,141.40 100.60,144.50 97.50,147.60 94.40,144.50" fill="#fff" stroke="#000" stroke-width="1.1"/>
<polygon points="101.60,122.70 104.70,125.80 101.60,128.90 98.50,125.80" fill="#fff" stroke="#000" stroke-width="1.1"/>
<polygon points="106.30,96.10 109.40,99.20 106.30,102.30 103.20,99.20" fill="#fff" stroke="#000" stroke-width="1.1"/>
<polyline points="69.50,206.00 74.40,200.00 81.00,193.50 83.50,186.20 85.20,176.60 88.60,168.10 94.10,150.80 97.50,125.80 100.30,103.40" fill="none" stroke="#000" stroke-width="2.4" stroke-linejoin="round"/>
<rect x="67.20" y="203.70" width="4.6" height="4.6" fill="#000"/>
<rect x="72.10" y="197.70" width="4.6" height="4.6" fill="#000"/>
<rect x="78.70" y="191.20" width="4.6" height="4.6" fill="#000"/>
<rect x="81.20" y="183.90" width="4.6" height="4.6" fill="#000"/>
<rect x="82.90" y="174.30" width="4.6" height="4.6" fill="#000"/>
<rect x="86.30" y="165.80" width="4.6" height="4.6" fill="#000"/>
<rect x="91.80" y="148.50" width="4.6" height="4.6" fill="#000"/>
<rect x="95.20" y="123.50" width="4.6" height="4.6" fill="#000"/>
<rect x="98.00" y="101.10" width="4.6" height="4.6" fill="#000"/>
<polyline points="69.50,207.00 74.40,207.60 81.20,208.80 85.70,211.00 89.70,209.30 93.10,207.60 97.00,207.50 101.00,207.00 106.00,206.50 112.80,204.70 118.30,193.80 121.40,191.40 125.00,189.10 130.50,180.50 133.60,171.10 137.50,157.80" fill="none" stroke="#3a2810" stroke-width="1.5" stroke-linejoin="round"/>
<circle cx="69.50" cy="207.00" r="2.8" fill="#8c6030" stroke="#2a1808" stroke-width="1.0"/>
<circle cx="74.40" cy="207.60" r="2.8" fill="#8c6030" stroke="#2a1808" stroke-width="1.0"/>
<circle cx="81.20" cy="208.80" r="2.8" fill="#8c6030" stroke="#2a1808" stroke-width="1.0"/>
<circle cx="85.70" cy="211.00" r="2.8" fill="#8c6030" stroke="#2a1808" stroke-width="1.0"/>
<circle cx="89.70" cy="209.30" r="2.8" fill="#8c6030" stroke="#2a1808" stroke-width="1.0"/>
<circle cx="93.10" cy="207.60" r="2.8" fill="#8c6030" stroke="#2a1808" stroke-width="1.0"/>
<circle cx="97.00" cy="207.50" r="2.8" fill="#8c6030" stroke="#2a1808" stroke-width="1.0"/>
<circle cx="101.00" cy="207.00" r="2.8" fill="#8c6030" stroke="#2a1808" stroke-width="1.0"/>
<circle cx="106.00" cy="206.50" r="2.8" fill="#8c6030" stroke="#2a1808" stroke-width="1.0"/>
<circle cx="112.80" cy="204.70" r="2.8" fill="#8c6030" stroke="#2a1808" stroke-width="1.0"/>
<circle cx="118.30" cy="193.80" r="2.8" fill="#8c6030" stroke="#2a1808" stroke-width="1.0"/>
<circle cx="121.40" cy="191.40" r="2.8" fill="#8c6030" stroke="#2a1808" stroke-width="1.0"/>
<circle cx="125.00" cy="189.10" r="2.8" fill="#8c6030" stroke="#2a1808" stroke-width="1.0"/>
<circle cx="130.50" cy="180.50" r="2.8" fill="#8c6030" stroke="#2a1808" stroke-width="1.0"/>
<circle cx="133.60" cy="171.10" r="2.8" fill="#8c6030" stroke="#2a1808" stroke-width="1.0"/>
<circle cx="137.50" cy="157.80" r="2.8" fill="#8c6030" stroke="#2a1808" stroke-width="1.0"/>
<polyline points="69.50,205.20 74.80,203.10 81.80,205.20 84.90,203.40 88.60,194.80 92.50,198.80 96.00,205.00 100.50,204.00 104.20,203.00 108.00,200.00 113.00,195.00 118.30,187.50 121.70,181.00 125.20,176.50 130.20,169.50 133.90,155.60" fill="none" stroke="#e81818" stroke-width="2.6" stroke-linejoin="round"/>
<polygon points="69.50,201.80 72.90,205.20 69.50,208.60 66.10,205.20" fill="#ee1111" stroke="none" stroke-width="0"/>
<polygon points="74.80,199.70 78.20,203.10 74.80,206.50 71.40,203.10" fill="#ee1111" stroke="none" stroke-width="0"/>
<polygon points="81.80,201.80 85.20,205.20 81.80,208.60 78.40,205.20" fill="#ee1111" stroke="none" stroke-width="0"/>
<polygon points="84.90,200.00 88.30,203.40 84.90,206.80 81.50,203.40" fill="#ee1111" stroke="none" stroke-width="0"/>
<polygon points="88.60,191.40 92.00,194.80 88.60,198.20 85.20,194.80" fill="#ee1111" stroke="none" stroke-width="0"/>
<polygon points="92.50,195.40 95.90,198.80 92.50,202.20 89.10,198.80" fill="#ee1111" stroke="none" stroke-width="0"/>
<polygon points="96.00,201.60 99.40,205.00 96.00,208.40 92.60,205.00" fill="#ee1111" stroke="none" stroke-width="0"/>
<polygon points="100.50,200.60 103.90,204.00 100.50,207.40 97.10,204.00" fill="#ee1111" stroke="none" stroke-width="0"/>
<polygon points="104.20,199.60 107.60,203.00 104.20,206.40 100.80,203.00" fill="#ee1111" stroke="none" stroke-width="0"/>
<polygon points="108.00,196.60 111.40,200.00 108.00,203.40 104.60,200.00" fill="#ee1111" stroke="none" stroke-width="0"/>
<polygon points="113.00,191.60 116.40,195.00 113.00,198.40 109.60,195.00" fill="#ee1111" stroke="none" stroke-width="0"/>
<polygon points="118.30,184.10 121.70,187.50 118.30,190.90 114.90,187.50" fill="#ee1111" stroke="none" stroke-width="0"/>
<polygon points="121.70,177.60 125.10,181.00 121.70,184.40 118.30,181.00" fill="#ee1111" stroke="none" stroke-width="0"/>
<polygon points="125.20,173.10 128.60,176.50 125.20,179.90 121.80,176.50" fill="#ee1111" stroke="none" stroke-width="0"/>
<polygon points="130.20,166.10 133.60,169.50 130.20,172.90 126.80,169.50" fill="#ee1111" stroke="none" stroke-width="0"/>
<polygon points="133.90,152.20 137.30,155.60 133.90,159.00 130.50,155.60" fill="#ee1111" stroke="none" stroke-width="0"/>
<circle cx="159.10" cy="49.40" r="3.0" fill="#7a7a7a" stroke="#404040" stroke-width="0.9"/>
<line x1="153.20" y1="61.60" x2="163.60" y2="61.60" stroke="#000" stroke-width="1.5"/>
<polygon points="158.40,58.20 161.80,61.60 158.40,65.00 155.00,61.60" fill="#fff" stroke="#000" stroke-width="1.2"/>
<line x1="153.20" y1="75.30" x2="163.60" y2="75.30" stroke="#000" stroke-width="1.7"/>
<rect x="155.90" y="72.80" width="5.0" height="5.0" fill="#000"/>
<circle cx="158.50" cy="89.00" r="2.8" fill="#1515d5" stroke="none" stroke-width="0"/>
<line x1="152.60" y1="102.80" x2="163.60" y2="102.80" stroke="#d01010" stroke-width="1.7"/>
<polygon points="158.00,99.60 161.20,102.80 158.00,106.00 154.80,102.80" fill="#ee1111" stroke="none" stroke-width="0"/>
<line x1="152.60" y1="116.20" x2="163.60" y2="116.20" stroke="#3a2812" stroke-width="1.5"/>
<circle cx="158.00" cy="116.20" r="3.0" fill="#9c7042" stroke="#3a2812" stroke-width="0.9"/>
<text x="170.4" y="52.699999999999996" font-size="9.3" font-weight="bold" fill="#111" stroke="#111" stroke-width="0.45" textLength="16.5" lengthAdjust="spacingAndGlyphs">hIgG</text>
<text x="170.4" y="64.9" font-size="9.3" font-weight="bold" fill="#111" stroke="#111" stroke-width="0.45" textLength="45.5" lengthAdjust="spacingAndGlyphs">hIgG MMAF</text>
<text x="170.4" y="78.6" font-size="9.3" font-weight="bold" fill="#111" stroke="#111" stroke-width="0.45" textLength="45.2" lengthAdjust="spacingAndGlyphs">hIgG MMAE</text>
<text x="170.4" y="92.3" font-size="9.3" font-weight="bold" fill="#111" stroke="#111" stroke-width="0.45" textLength="38.2" lengthAdjust="spacingAndGlyphs">ABBV-221</text>
<text x="170.4" y="106.1" font-size="9.3" font-weight="bold" fill="#111" stroke="#111" stroke-width="0.45" textLength="42.3" lengthAdjust="spacingAndGlyphs">Depatux-m</text>
<text x="170.4" y="119.5" font-size="9.3" font-weight="bold" fill="#111" stroke="#111" stroke-width="0.45" textLength="46.7" lengthAdjust="spacingAndGlyphs">AM1 MMAF</text>
<line x1="364.90" y1="149.80" x2="364.90" y2="157.50" stroke="#707070" stroke-width="1"/>
<line x1="363.30" y1="149.80" x2="366.50" y2="149.80" stroke="#707070" stroke-width="1"/>
<line x1="363.30" y1="157.50" x2="366.50" y2="157.50" stroke="#707070" stroke-width="1"/>
<line x1="368.20" y1="115.40" x2="368.20" y2="125.00" stroke="#707070" stroke-width="1"/>
<line x1="366.60" y1="115.40" x2="369.80" y2="115.40" stroke="#707070" stroke-width="1"/>
<line x1="366.60" y1="125.00" x2="369.80" y2="125.00" stroke="#707070" stroke-width="1"/>
<line x1="372.00" y1="75.30" x2="372.00" y2="91.00" stroke="#707070" stroke-width="1"/>
<line x1="370.40" y1="75.30" x2="373.60" y2="75.30" stroke="#707070" stroke-width="1"/>
<line x1="370.40" y1="91.00" x2="373.60" y2="91.00" stroke="#707070" stroke-width="1"/>
<line x1="364.70" y1="191.00" x2="364.70" y2="203.00" stroke="#767676" stroke-width="1"/>
<line x1="362.10" y1="191.00" x2="367.30" y2="191.00" stroke="#767676" stroke-width="1"/>
<line x1="362.10" y1="203.00" x2="367.30" y2="203.00" stroke="#767676" stroke-width="1"/>
<line x1="368.40" y1="192.00" x2="368.40" y2="205.00" stroke="#767676" stroke-width="1"/>
<line x1="365.80" y1="192.00" x2="371.00" y2="192.00" stroke="#767676" stroke-width="1"/>
<line x1="365.80" y1="205.00" x2="371.00" y2="205.00" stroke="#767676" stroke-width="1"/>
<line x1="372.10" y1="189.00" x2="372.10" y2="200.00" stroke="#767676" stroke-width="1"/>
<line x1="369.50" y1="189.00" x2="374.70" y2="189.00" stroke="#767676" stroke-width="1"/>
<line x1="369.50" y1="200.00" x2="374.70" y2="200.00" stroke="#767676" stroke-width="1"/>
<line x1="377.00" y1="183.00" x2="377.00" y2="195.00" stroke="#767676" stroke-width="1"/>
<line x1="374.40" y1="183.00" x2="379.60" y2="183.00" stroke="#767676" stroke-width="1"/>
<line x1="374.40" y1="195.00" x2="379.60" y2="195.00" stroke="#767676" stroke-width="1"/>
<line x1="381.00" y1="176.00" x2="381.00" y2="188.00" stroke="#767676" stroke-width="1"/>
<line x1="378.40" y1="176.00" x2="383.60" y2="176.00" stroke="#767676" stroke-width="1"/>
<line x1="378.40" y1="188.00" x2="383.60" y2="188.00" stroke="#767676" stroke-width="1"/>
<line x1="384.40" y1="170.00" x2="384.40" y2="184.00" stroke="#767676" stroke-width="1"/>
<line x1="381.80" y1="170.00" x2="387.00" y2="170.00" stroke="#767676" stroke-width="1"/>
<line x1="381.80" y1="184.00" x2="387.00" y2="184.00" stroke="#767676" stroke-width="1"/>
<line x1="389.80" y1="166.00" x2="389.80" y2="188.00" stroke="#767676" stroke-width="1"/>
<line x1="387.20" y1="166.00" x2="392.40" y2="166.00" stroke="#767676" stroke-width="1"/>
<line x1="387.20" y1="188.00" x2="392.40" y2="188.00" stroke="#767676" stroke-width="1"/>
<line x1="393.00" y1="157.00" x2="393.00" y2="181.00" stroke="#767676" stroke-width="1"/>
<line x1="390.40" y1="157.00" x2="395.60" y2="157.00" stroke="#767676" stroke-width="1"/>
<line x1="390.40" y1="181.00" x2="395.60" y2="181.00" stroke="#767676" stroke-width="1"/>
<line x1="396.30" y1="143.10" x2="396.30" y2="170.00" stroke="#767676" stroke-width="1"/>
<line x1="393.70" y1="143.10" x2="398.90" y2="143.10" stroke="#767676" stroke-width="1"/>
<line x1="393.70" y1="170.00" x2="398.90" y2="170.00" stroke="#767676" stroke-width="1"/>
<line x1="401.60" y1="117.00" x2="401.60" y2="153.30" stroke="#767676" stroke-width="1"/>
<line x1="399.00" y1="117.00" x2="404.20" y2="117.00" stroke="#767676" stroke-width="1"/>
<line x1="399.00" y1="153.30" x2="404.20" y2="153.30" stroke="#767676" stroke-width="1"/>
<line x1="405.00" y1="210.50" x2="405.00" y2="216.80" stroke="#2828c8" stroke-width="1.1"/>
<line x1="402.30" y1="210.50" x2="407.70" y2="210.50" stroke="#2828c8" stroke-width="1.1"/>
<line x1="402.30" y1="216.80" x2="407.70" y2="216.80" stroke="#2828c8" stroke-width="1.1"/>
<line x1="413.80" y1="210.00" x2="413.80" y2="216.00" stroke="#2828c8" stroke-width="1.1"/>
<line x1="411.10" y1="210.00" x2="416.50" y2="210.00" stroke="#2828c8" stroke-width="1.1"/>
<line x1="411.10" y1="216.00" x2="416.50" y2="216.00" stroke="#2828c8" stroke-width="1.1"/>
<line x1="419.40" y1="209.50" x2="419.40" y2="215.30" stroke="#2828c8" stroke-width="1.1"/>
<line x1="416.70" y1="209.50" x2="422.10" y2="209.50" stroke="#2828c8" stroke-width="1.1"/>
<line x1="416.70" y1="215.30" x2="422.10" y2="215.30" stroke="#2828c8" stroke-width="1.1"/>
<line x1="426.30" y1="208.50" x2="426.30" y2="214.30" stroke="#2828c8" stroke-width="1.1"/>
<line x1="423.60" y1="208.50" x2="429.00" y2="208.50" stroke="#2828c8" stroke-width="1.1"/>
<line x1="423.60" y1="214.30" x2="429.00" y2="214.30" stroke="#2828c8" stroke-width="1.1"/>
<line x1="432.50" y1="206.00" x2="432.50" y2="212.80" stroke="#2828c8" stroke-width="1.1"/>
<line x1="429.80" y1="206.00" x2="435.20" y2="206.00" stroke="#2828c8" stroke-width="1.1"/>
<line x1="429.80" y1="212.80" x2="435.20" y2="212.80" stroke="#2828c8" stroke-width="1.1"/>
<line x1="443.80" y1="199.00" x2="443.80" y2="210.00" stroke="#2828c8" stroke-width="1.1"/>
<line x1="441.10" y1="199.00" x2="446.50" y2="199.00" stroke="#2828c8" stroke-width="1.1"/>
<line x1="441.10" y1="210.00" x2="446.50" y2="210.00" stroke="#2828c8" stroke-width="1.1"/>
<line x1="454.00" y1="197.40" x2="454.00" y2="208.60" stroke="#2828c8" stroke-width="1.1"/>
<line x1="451.30" y1="197.40" x2="456.70" y2="197.40" stroke="#2828c8" stroke-width="1.1"/>
<line x1="451.30" y1="208.60" x2="456.70" y2="208.60" stroke="#2828c8" stroke-width="1.1"/>
<line x1="458.10" y1="195.70" x2="458.10" y2="208.30" stroke="#2828c8" stroke-width="1.1"/>
<line x1="455.40" y1="195.70" x2="460.80" y2="195.70" stroke="#2828c8" stroke-width="1.1"/>
<line x1="455.40" y1="208.30" x2="460.80" y2="208.30" stroke="#2828c8" stroke-width="1.1"/>
<line x1="463.50" y1="191.60" x2="463.50" y2="206.20" stroke="#2828c8" stroke-width="1.1"/>
<line x1="460.80" y1="191.60" x2="466.20" y2="191.60" stroke="#2828c8" stroke-width="1.1"/>
<line x1="460.80" y1="206.20" x2="466.20" y2="206.20" stroke="#2828c8" stroke-width="1.1"/>
<line x1="470.50" y1="189.30" x2="470.50" y2="204.80" stroke="#2828c8" stroke-width="1.1"/>
<line x1="467.80" y1="189.30" x2="473.20" y2="189.30" stroke="#2828c8" stroke-width="1.1"/>
<line x1="467.80" y1="204.80" x2="473.20" y2="204.80" stroke="#2828c8" stroke-width="1.1"/>
<line x1="482.30" y1="184.90" x2="482.30" y2="203.00" stroke="#2828c8" stroke-width="1.1"/>
<line x1="479.60" y1="184.90" x2="485.00" y2="184.90" stroke="#2828c8" stroke-width="1.1"/>
<line x1="479.60" y1="203.00" x2="485.00" y2="203.00" stroke="#2828c8" stroke-width="1.1"/>
<line x1="488.10" y1="177.20" x2="488.10" y2="198.90" stroke="#2828c8" stroke-width="1.1"/>
<line x1="485.40" y1="177.20" x2="490.80" y2="177.20" stroke="#2828c8" stroke-width="1.1"/>
<line x1="485.40" y1="198.90" x2="490.80" y2="198.90" stroke="#2828c8" stroke-width="1.1"/>
<line x1="494.80" y1="185.30" x2="494.80" y2="203.00" stroke="#2828c8" stroke-width="1.1"/>
<line x1="492.10" y1="185.30" x2="497.50" y2="185.30" stroke="#2828c8" stroke-width="1.1"/>
<line x1="492.10" y1="203.00" x2="497.50" y2="203.00" stroke="#2828c8" stroke-width="1.1"/>
<line x1="500.50" y1="181.30" x2="500.50" y2="200.90" stroke="#2828c8" stroke-width="1.1"/>
<line x1="497.80" y1="181.30" x2="503.20" y2="181.30" stroke="#2828c8" stroke-width="1.1"/>
<line x1="497.80" y1="200.90" x2="503.20" y2="200.90" stroke="#2828c8" stroke-width="1.1"/>
<line x1="507.20" y1="174.50" x2="507.20" y2="197.60" stroke="#2828c8" stroke-width="1.1"/>
<line x1="504.50" y1="174.50" x2="509.90" y2="174.50" stroke="#2828c8" stroke-width="1.1"/>
<line x1="504.50" y1="197.60" x2="509.90" y2="197.60" stroke="#2828c8" stroke-width="1.1"/>
<line x1="514.30" y1="171.40" x2="514.30" y2="196.20" stroke="#2828c8" stroke-width="1.1"/>
<line x1="511.60" y1="171.40" x2="517.00" y2="171.40" stroke="#2828c8" stroke-width="1.1"/>
<line x1="511.60" y1="196.20" x2="517.00" y2="196.20" stroke="#2828c8" stroke-width="1.1"/>
<line x1="463.50" y1="210.10" x2="463.50" y2="217.90" stroke="#c82838" stroke-width="1.1"/>
<line x1="461.10" y1="210.10" x2="465.90" y2="210.10" stroke="#c82838" stroke-width="1.1"/>
<line x1="461.10" y1="217.90" x2="465.90" y2="217.90" stroke="#c82838" stroke-width="1.1"/>
<line x1="470.50" y1="209.50" x2="470.50" y2="217.90" stroke="#c82838" stroke-width="1.1"/>
<line x1="468.10" y1="209.50" x2="472.90" y2="209.50" stroke="#c82838" stroke-width="1.1"/>
<line x1="468.10" y1="217.90" x2="472.90" y2="217.90" stroke="#c82838" stroke-width="1.1"/>
<line x1="482.30" y1="206.90" x2="482.30" y2="217.90" stroke="#c82838" stroke-width="1.1"/>
<line x1="479.90" y1="206.90" x2="484.70" y2="206.90" stroke="#c82838" stroke-width="1.1"/>
<line x1="479.90" y1="217.90" x2="484.70" y2="217.90" stroke="#c82838" stroke-width="1.1"/>
<line x1="488.10" y1="203.80" x2="488.10" y2="217.90" stroke="#c82838" stroke-width="1.1"/>
<line x1="485.70" y1="203.80" x2="490.50" y2="203.80" stroke="#c82838" stroke-width="1.1"/>
<line x1="485.70" y1="217.90" x2="490.50" y2="217.90" stroke="#c82838" stroke-width="1.1"/>
<line x1="494.80" y1="207.20" x2="494.80" y2="217.90" stroke="#c82838" stroke-width="1.1"/>
<line x1="492.40" y1="207.20" x2="497.20" y2="207.20" stroke="#c82838" stroke-width="1.1"/>
<line x1="492.40" y1="217.90" x2="497.20" y2="217.90" stroke="#c82838" stroke-width="1.1"/>
<line x1="500.50" y1="205.00" x2="500.50" y2="217.90" stroke="#c82838" stroke-width="1.1"/>
<line x1="498.10" y1="205.00" x2="502.90" y2="205.00" stroke="#c82838" stroke-width="1.1"/>
<line x1="498.10" y1="217.90" x2="502.90" y2="217.90" stroke="#c82838" stroke-width="1.1"/>
<line x1="507.20" y1="202.00" x2="507.20" y2="217.90" stroke="#c82838" stroke-width="1.1"/>
<line x1="504.80" y1="202.00" x2="509.60" y2="202.00" stroke="#c82838" stroke-width="1.1"/>
<line x1="504.80" y1="217.90" x2="509.60" y2="217.90" stroke="#c82838" stroke-width="1.1"/>
<line x1="514.30" y1="199.40" x2="514.30" y2="217.90" stroke="#c82838" stroke-width="1.1"/>
<line x1="511.90" y1="199.40" x2="516.70" y2="199.40" stroke="#c82838" stroke-width="1.1"/>
<line x1="511.90" y1="217.90" x2="516.70" y2="217.90" stroke="#c82838" stroke-width="1.1"/>
<polyline points="340.00,204.50 345.50,205.00 352.20,202.00 356.30,199.80 359.50,193.20 364.70,196.90 368.40,198.30 372.10,194.70 377.00,188.70 381.00,182.10 384.40,176.90 389.80,174.70 393.00,165.10 396.30,156.30 401.60,135.10" fill="none" stroke="#7a7a7a" stroke-width="1.3" stroke-linejoin="round"/>
<circle cx="340.00" cy="204.50" r="2.6" fill="#fff" stroke="#666" stroke-width="1.1"/>
<circle cx="345.50" cy="205.00" r="2.6" fill="#fff" stroke="#666" stroke-width="1.1"/>
<circle cx="352.20" cy="202.00" r="2.6" fill="#fff" stroke="#666" stroke-width="1.1"/>
<circle cx="356.30" cy="199.80" r="2.6" fill="#fff" stroke="#666" stroke-width="1.1"/>
<circle cx="359.50" cy="193.20" r="2.6" fill="#fff" stroke="#666" stroke-width="1.1"/>
<circle cx="364.70" cy="196.90" r="2.6" fill="#fff" stroke="#666" stroke-width="1.1"/>
<circle cx="368.40" cy="198.30" r="2.6" fill="#fff" stroke="#666" stroke-width="1.1"/>
<circle cx="372.10" cy="194.70" r="2.6" fill="#fff" stroke="#666" stroke-width="1.1"/>
<circle cx="377.00" cy="188.70" r="2.6" fill="#fff" stroke="#666" stroke-width="1.1"/>
<circle cx="381.00" cy="182.10" r="2.6" fill="#fff" stroke="#666" stroke-width="1.1"/>
<circle cx="384.40" cy="176.90" r="2.6" fill="#fff" stroke="#666" stroke-width="1.1"/>
<circle cx="389.80" cy="174.70" r="2.6" fill="#fff" stroke="#666" stroke-width="1.1"/>
<circle cx="393.00" cy="165.10" r="2.6" fill="#fff" stroke="#666" stroke-width="1.1"/>
<circle cx="396.30" cy="156.30" r="2.6" fill="#fff" stroke="#666" stroke-width="1.1"/>
<circle cx="401.60" cy="135.10" r="2.6" fill="#fff" stroke="#666" stroke-width="1.1"/>
<polyline points="340.00,204.50 344.80,198.30 352.20,189.20 355.80,179.10 359.30,166.20 364.90,153.60 368.20,120.20 372.00,83.90" fill="none" stroke="#555" stroke-width="1.7" stroke-linejoin="round"/>
<circle cx="340.00" cy="204.50" r="2.7" fill="#6e6e6e" stroke="#333" stroke-width="0.9"/>
<circle cx="344.80" cy="198.30" r="2.7" fill="#6e6e6e" stroke="#333" stroke-width="0.9"/>
<circle cx="352.20" cy="189.20" r="2.7" fill="#6e6e6e" stroke="#333" stroke-width="0.9"/>
<circle cx="355.80" cy="179.10" r="2.7" fill="#6e6e6e" stroke="#333" stroke-width="0.9"/>
<circle cx="359.30" cy="166.20" r="2.7" fill="#6e6e6e" stroke="#333" stroke-width="0.9"/>
<circle cx="364.90" cy="153.60" r="2.7" fill="#6e6e6e" stroke="#333" stroke-width="0.9"/>
<circle cx="368.20" cy="120.20" r="2.7" fill="#6e6e6e" stroke="#333" stroke-width="0.9"/>
<circle cx="372.00" cy="83.90" r="2.7" fill="#6e6e6e" stroke="#333" stroke-width="0.9"/>
<polyline points="340.00,204.50 344.80,209.50 352.20,212.00 359.50,214.50 364.70,215.50 372.10,216.30 381.00,216.30 389.80,215.50 396.30,214.60 405.00,213.60 419.40,212.80 432.50,212.00 443.80,211.20 454.00,210.60 463.50,210.10 470.50,209.50 482.30,206.90 488.10,203.80 494.80,207.20 500.50,205.00 507.20,202.00 514.30,199.40" fill="none" stroke="#ee1c1c" stroke-width="2.4" stroke-linejoin="round"/>
<polyline points="340.00,204.50 344.80,209.00 352.20,211.00 359.50,214.00 364.70,215.50 372.10,216.50 381.00,216.80 389.80,216.80 396.30,216.30 405.00,215.30 413.80,214.50 419.40,213.80 426.30,212.80 432.50,211.30 443.80,208.50 454.00,207.10 458.10,206.80 463.50,204.70 470.50,203.30 482.30,201.50 488.10,197.40 494.80,201.50 500.50,199.40 507.20,196.10 514.30,194.70" fill="none" stroke="#1818d8" stroke-width="1.5" stroke-linejoin="round"/>
<circle cx="405.00" cy="215.30" r="2.8" fill="#1212c8" stroke="none" stroke-width="0"/>
<circle cx="413.80" cy="214.50" r="2.8" fill="#1212c8" stroke="none" stroke-width="0"/>
<circle cx="419.40" cy="213.80" r="2.8" fill="#1212c8" stroke="none" stroke-width="0"/>
<circle cx="426.30" cy="212.80" r="2.8" fill="#1212c8" stroke="none" stroke-width="0"/>
<circle cx="432.50" cy="211.30" r="2.8" fill="#1212c8" stroke="none" stroke-width="0"/>
<circle cx="443.80" cy="208.50" r="2.8" fill="#1212c8" stroke="none" stroke-width="0"/>
<circle cx="454.00" cy="207.10" r="2.8" fill="#1212c8" stroke="none" stroke-width="0"/>
<circle cx="458.10" cy="206.80" r="2.8" fill="#1212c8" stroke="none" stroke-width="0"/>
<circle cx="463.50" cy="204.70" r="2.8" fill="#1212c8" stroke="none" stroke-width="0"/>
<circle cx="470.50" cy="203.30" r="2.8" fill="#1212c8" stroke="none" stroke-width="0"/>
<circle cx="482.30" cy="201.50" r="2.8" fill="#1212c8" stroke="none" stroke-width="0"/>
<circle cx="488.10" cy="197.40" r="2.8" fill="#1212c8" stroke="none" stroke-width="0"/>
<circle cx="494.80" cy="201.50" r="2.8" fill="#1212c8" stroke="none" stroke-width="0"/>
<circle cx="500.50" cy="199.40" r="2.8" fill="#1212c8" stroke="none" stroke-width="0"/>
<circle cx="507.20" cy="196.10" r="2.8" fill="#1212c8" stroke="none" stroke-width="0"/>
<circle cx="514.30" cy="194.70" r="2.8" fill="#1212c8" stroke="none" stroke-width="0"/>
<polygon points="340.00,202.90 341.60,204.50 340.00,206.10 338.40,204.50" fill="#ee1111" stroke="none" stroke-width="0"/>
<polygon points="344.80,207.90 346.40,209.50 344.80,211.10 343.20,209.50" fill="#ee1111" stroke="none" stroke-width="0"/>
<polygon points="352.20,210.40 353.80,212.00 352.20,213.60 350.60,212.00" fill="#ee1111" stroke="none" stroke-width="0"/>
<polygon points="359.50,212.90 361.10,214.50 359.50,216.10 357.90,214.50" fill="#ee1111" stroke="none" stroke-width="0"/>
<polygon points="364.70,213.90 366.30,215.50 364.70,217.10 363.10,215.50" fill="#ee1111" stroke="none" stroke-width="0"/>
<polygon points="372.10,214.70 373.70,216.30 372.10,217.90 370.50,216.30" fill="#ee1111" stroke="none" stroke-width="0"/>
<polygon points="381.00,214.70 382.60,216.30 381.00,217.90 379.40,216.30" fill="#ee1111" stroke="none" stroke-width="0"/>
<polygon points="389.80,213.90 391.40,215.50 389.80,217.10 388.20,215.50" fill="#ee1111" stroke="none" stroke-width="0"/>
<polygon points="396.30,213.00 397.90,214.60 396.30,216.20 394.70,214.60" fill="#ee1111" stroke="none" stroke-width="0"/>
<polygon points="405.00,212.00 406.60,213.60 405.00,215.20 403.40,213.60" fill="#ee1111" stroke="none" stroke-width="0"/>
<polygon points="419.40,211.20 421.00,212.80 419.40,214.40 417.80,212.80" fill="#ee1111" stroke="none" stroke-width="0"/>
<polygon points="432.50,210.40 434.10,212.00 432.50,213.60 430.90,212.00" fill="#ee1111" stroke="none" stroke-width="0"/>
<polygon points="443.80,209.60 445.40,211.20 443.80,212.80 442.20,211.20" fill="#ee1111" stroke="none" stroke-width="0"/>
<polygon points="454.00,209.00 455.60,210.60 454.00,212.20 452.40,210.60" fill="#ee1111" stroke="none" stroke-width="0"/>
<polygon points="463.50,208.50 465.10,210.10 463.50,211.70 461.90,210.10" fill="#ee1111" stroke="none" stroke-width="0"/>
<polygon points="470.50,207.90 472.10,209.50 470.50,211.10 468.90,209.50" fill="#ee1111" stroke="none" stroke-width="0"/>
<polygon points="482.30,205.30 483.90,206.90 482.30,208.50 480.70,206.90" fill="#ee1111" stroke="none" stroke-width="0"/>
<polygon points="488.10,202.20 489.70,203.80 488.10,205.40 486.50,203.80" fill="#ee1111" stroke="none" stroke-width="0"/>
<polygon points="494.80,205.60 496.40,207.20 494.80,208.80 493.20,207.20" fill="#ee1111" stroke="none" stroke-width="0"/>
<polygon points="500.50,203.40 502.10,205.00 500.50,206.60 498.90,205.00" fill="#ee1111" stroke="none" stroke-width="0"/>
<polygon points="507.20,200.40 508.80,202.00 507.20,203.60 505.60,202.00" fill="#ee1111" stroke="none" stroke-width="0"/>
<polygon points="514.30,197.80 515.90,199.40 514.30,201.00 512.70,199.40" fill="#ee1111" stroke="none" stroke-width="0"/>
<polyline points="340.00,204.50 344.80,208.70 352.20,210.90 359.50,213.90 364.70,215.30 368.40,216.00 372.10,216.50 377.30,216.70 381.00,216.80 384.70,216.90 389.80,217.00 396.00,217.10 401.30,217.10 404.60,217.10 408.50,217.10 413.80,217.10 419.00,217.10 426.30,217.10 431.50,217.10 436.80,217.10 441.60,217.20 446.50,217.30 454.00,217.50 458.10,216.50 463.50,216.20 470.50,215.80 482.30,215.80 488.10,214.80 494.80,211.80 500.50,210.80 507.20,208.30 514.30,206.10" fill="none" stroke="#111" stroke-width="1.6" stroke-linejoin="round"/>
<circle cx="340.00" cy="204.50" r="2.55" fill="#8e6a3a" stroke="#1e1408" stroke-width="1.0"/>
<circle cx="344.80" cy="208.70" r="2.55" fill="#8e6a3a" stroke="#1e1408" stroke-width="1.0"/>
<circle cx="352.20" cy="210.90" r="2.55" fill="#8e6a3a" stroke="#1e1408" stroke-width="1.0"/>
<circle cx="359.50" cy="213.90" r="2.55" fill="#8e6a3a" stroke="#1e1408" stroke-width="1.0"/>
<circle cx="364.70" cy="215.30" r="2.55" fill="#8e6a3a" stroke="#1e1408" stroke-width="1.0"/>
<circle cx="368.40" cy="216.00" r="2.55" fill="#8e6a3a" stroke="#1e1408" stroke-width="1.0"/>
<circle cx="372.10" cy="216.50" r="2.55" fill="#8e6a3a" stroke="#1e1408" stroke-width="1.0"/>
<circle cx="377.30" cy="216.70" r="2.55" fill="#8e6a3a" stroke="#1e1408" stroke-width="1.0"/>
<circle cx="381.00" cy="216.80" r="2.55" fill="#8e6a3a" stroke="#1e1408" stroke-width="1.0"/>
<circle cx="384.70" cy="216.90" r="2.55" fill="#8e6a3a" stroke="#1e1408" stroke-width="1.0"/>
<circle cx="389.80" cy="217.00" r="2.55" fill="#8e6a3a" stroke="#1e1408" stroke-width="1.0"/>
<circle cx="396.00" cy="217.10" r="2.55" fill="#8e6a3a" stroke="#1e1408" stroke-width="1.0"/>
<circle cx="401.30" cy="217.10" r="2.55" fill="#8e6a3a" stroke="#1e1408" stroke-width="1.0"/>
<circle cx="404.60" cy="217.10" r="2.55" fill="#8e6a3a" stroke="#1e1408" stroke-width="1.0"/>
<circle cx="408.50" cy="217.10" r="2.55" fill="#8e6a3a" stroke="#1e1408" stroke-width="1.0"/>
<circle cx="413.80" cy="217.10" r="2.55" fill="#8e6a3a" stroke="#1e1408" stroke-width="1.0"/>
<circle cx="419.00" cy="217.10" r="2.55" fill="#8e6a3a" stroke="#1e1408" stroke-width="1.0"/>
<circle cx="426.30" cy="217.10" r="2.55" fill="#8e6a3a" stroke="#1e1408" stroke-width="1.0"/>
<circle cx="431.50" cy="217.10" r="2.55" fill="#8e6a3a" stroke="#1e1408" stroke-width="1.0"/>
<circle cx="436.80" cy="217.10" r="2.55" fill="#8e6a3a" stroke="#1e1408" stroke-width="1.0"/>
<circle cx="441.60" cy="217.20" r="2.55" fill="#8e6a3a" stroke="#1e1408" stroke-width="1.0"/>
<circle cx="446.50" cy="217.30" r="2.55" fill="#8e6a3a" stroke="#1e1408" stroke-width="1.0"/>
<circle cx="454.00" cy="217.50" r="2.55" fill="#8e6a3a" stroke="#1e1408" stroke-width="1.0"/>
<circle cx="458.10" cy="216.50" r="2.55" fill="#8e6a3a" stroke="#1e1408" stroke-width="1.0"/>
<circle cx="463.50" cy="216.20" r="2.55" fill="#8e6a3a" stroke="#1e1408" stroke-width="1.0"/>
<circle cx="470.50" cy="215.80" r="2.55" fill="#8e6a3a" stroke="#1e1408" stroke-width="1.0"/>
<circle cx="482.30" cy="215.80" r="2.55" fill="#8e6a3a" stroke="#1e1408" stroke-width="1.0"/>
<circle cx="488.10" cy="214.80" r="2.55" fill="#8e6a3a" stroke="#1e1408" stroke-width="1.0"/>
<circle cx="494.80" cy="211.80" r="2.55" fill="#8e6a3a" stroke="#1e1408" stroke-width="1.0"/>
<circle cx="500.50" cy="210.80" r="2.55" fill="#8e6a3a" stroke="#1e1408" stroke-width="1.0"/>
<circle cx="507.20" cy="208.30" r="2.55" fill="#8e6a3a" stroke="#1e1408" stroke-width="1.0"/>
<circle cx="514.30" cy="206.10" r="2.55" fill="#8e6a3a" stroke="#1e1408" stroke-width="1.0"/>
<circle cx="407.40" cy="55.40" r="2.7" fill="#6e6e6e" stroke="#333" stroke-width="0.9"/>
<circle cx="407.40" cy="66.70" r="2.6" fill="#fff" stroke="#666" stroke-width="1.1"/>
<circle cx="407.40" cy="77.90" r="2.8" fill="#0c0cb0" stroke="none" stroke-width="0"/>
<line x1="401.70" y1="89.80" x2="413.60" y2="89.80" stroke="#ee1c1c" stroke-width="1.6"/>
<polygon points="407.50,87.50 409.80,89.80 407.50,92.10 405.20,89.80" fill="#e01020" stroke="none" stroke-width="0"/>
<line x1="401.70" y1="102.30" x2="413.60" y2="102.30" stroke="#222" stroke-width="1.4"/>
<circle cx="407.50" cy="102.30" r="2.7" fill="#8e7a48" stroke="#111" stroke-width="1.0"/>
<text x="418.9" y="58.05" font-size="8.5" font-weight="bold" fill="#111" stroke="#111" stroke-width="0.45" textLength="17.2" lengthAdjust="spacingAndGlyphs">hIgG</text>
<text x="418.9" y="69.35000000000001" font-size="8.5" font-weight="bold" fill="#111" stroke="#111" stroke-width="0.45" textLength="65.9" lengthAdjust="spacingAndGlyphs">hIgG + TMZ + XRT</text>
<text x="418.9" y="80.55000000000001" font-size="8.5" font-weight="bold" fill="#111" stroke="#111" stroke-width="0.45" textLength="88.2" lengthAdjust="spacingAndGlyphs">ABBV-221 + TMZ + XRT</text>
<text x="418.9" y="92.45" font-size="8.5" font-weight="bold" fill="#111" stroke="#111" stroke-width="0.45" textLength="92.1" lengthAdjust="spacingAndGlyphs">Depatux-m + TMZ + XRT</text>
<text x="418.9" y="104.95" font-size="8.5" font-weight="bold" fill="#111" stroke="#111" stroke-width="0.45" textLength="97.1" lengthAdjust="spacingAndGlyphs">AM1 MMAF + TMZ + XRT</text>
<line x1="41.80" y1="354.86" x2="41.80" y2="543.10" stroke="#222" stroke-width="1.4"/>
<line x1="41.80" y1="543.10" x2="276.20" y2="543.10" stroke="#222" stroke-width="1.4"/>
<line x1="38.60" y1="543.10" x2="41.80" y2="543.10" stroke="#222" stroke-width="1.2"/>
<text x="38.199999999999996" y="546.2" font-size="8.6" font-weight="bold" fill="#111" stroke="#111" stroke-width="0.45" text-anchor="end" textLength="4.8" lengthAdjust="spacingAndGlyphs">0</text>
<line x1="38.60" y1="519.57" x2="41.80" y2="519.57" stroke="#222" stroke-width="1.2"/>
<text x="38.199999999999996" y="522.6700000000001" font-size="8.6" font-weight="bold" fill="#111" stroke="#111" stroke-width="0.45" text-anchor="end" textLength="14.6" lengthAdjust="spacingAndGlyphs">100</text>
<line x1="38.60" y1="496.04" x2="41.80" y2="496.04" stroke="#222" stroke-width="1.2"/>
<text x="38.199999999999996" y="499.14000000000004" font-size="8.6" font-weight="bold" fill="#111" stroke="#111" stroke-width="0.45" text-anchor="end" textLength="14.6" lengthAdjust="spacingAndGlyphs">200</text>
<line x1="38.60" y1="472.51" x2="41.80" y2="472.51" stroke="#222" stroke-width="1.2"/>
<text x="38.199999999999996" y="475.61" font-size="8.6" font-weight="bold" fill="#111" stroke="#111" stroke-width="0.45" text-anchor="end" textLength="14.6" lengthAdjust="spacingAndGlyphs">300</text>
<line x1="38.60" y1="448.98" x2="41.80" y2="448.98" stroke="#222" stroke-width="1.2"/>
<text x="38.199999999999996" y="452.08000000000004" font-size="8.6" font-weight="bold" fill="#111" stroke="#111" stroke-width="0.45" text-anchor="end" textLength="14.6" lengthAdjust="spacingAndGlyphs">400</text>
<line x1="38.60" y1="425.45" x2="41.80" y2="425.45" stroke="#222" stroke-width="1.2"/>
<text x="38.199999999999996" y="428.55000000000007" font-size="8.6" font-weight="bold" fill="#111" stroke="#111" stroke-width="0.45" text-anchor="end" textLength="14.6" lengthAdjust="spacingAndGlyphs">500</text>
<line x1="38.60" y1="401.92" x2="41.80" y2="401.92" stroke="#222" stroke-width="1.2"/>
<text x="38.199999999999996" y="405.02000000000004" font-size="8.6" font-weight="bold" fill="#111" stroke="#111" stroke-width="0.45" text-anchor="end" textLength="14.6" lengthAdjust="spacingAndGlyphs">600</text>
<line x1="38.60" y1="378.39" x2="41.80" y2="378.39" stroke="#222" stroke-width="1.2"/>
<text x="38.199999999999996" y="381.49" font-size="8.6" font-weight="bold" fill="#111" stroke="#111" stroke-width="0.45" text-anchor="end" textLength="14.6" lengthAdjust="spacingAndGlyphs">700</text>
<line x1="38.60" y1="354.86" x2="41.80" y2="354.86" stroke="#222" stroke-width="1.2"/>
<text x="38.199999999999996" y="357.96000000000004" font-size="8.6" font-weight="bold" fill="#111" stroke="#111" stroke-width="0.45" text-anchor="end" textLength="14.6" lengthAdjust="spacingAndGlyphs">800</text>
<line x1="40.00" y1="537.22" x2="41.80" y2="537.22" stroke="#222" stroke-width="1.0"/>
<line x1="40.00" y1="531.34" x2="41.80" y2="531.34" stroke="#222" stroke-width="1.0"/>
<line x1="40.00" y1="525.45" x2="41.80" y2="525.45" stroke="#222" stroke-width="1.0"/>
<line x1="40.00" y1="513.69" x2="41.80" y2="513.69" stroke="#222" stroke-width="1.0"/>
<line x1="40.00" y1="507.81" x2="41.80" y2="507.81" stroke="#222" stroke-width="1.0"/>
<line x1="40.00" y1="501.92" x2="41.80" y2="501.92" stroke="#222" stroke-width="1.0"/>
<line x1="40.00" y1="490.16" x2="41.80" y2="490.16" stroke="#222" stroke-width="1.0"/>
<line x1="40.00" y1="484.28" x2="41.80" y2="484.28" stroke="#222" stroke-width="1.0"/>
<line x1="40.00" y1="478.39" x2="41.80" y2="478.39" stroke="#222" stroke-width="1.0"/>
<line x1="40.00" y1="466.63" x2="41.80" y2="466.63" stroke="#222" stroke-width="1.0"/>
<line x1="40.00" y1="460.75" x2="41.80" y2="460.75" stroke="#222" stroke-width="1.0"/>
<line x1="40.00" y1="454.86" x2="41.80" y2="454.86" stroke="#222" stroke-width="1.0"/>
<line x1="40.00" y1="443.10" x2="41.80" y2="443.10" stroke="#222" stroke-width="1.0"/>
<line x1="40.00" y1="437.22" x2="41.80" y2="437.22" stroke="#222" stroke-width="1.0"/>
<line x1="40.00" y1="431.33" x2="41.80" y2="431.33" stroke="#222" stroke-width="1.0"/>
<line x1="40.00" y1="419.57" x2="41.80" y2="419.57" stroke="#222" stroke-width="1.0"/>
<line x1="40.00" y1="413.69" x2="41.80" y2="413.69" stroke="#222" stroke-width="1.0"/>
<line x1="40.00" y1="407.80" x2="41.80" y2="407.80" stroke="#222" stroke-width="1.0"/>
<line x1="40.00" y1="396.04" x2="41.80" y2="396.04" stroke="#222" stroke-width="1.0"/>
<line x1="40.00" y1="390.16" x2="41.80" y2="390.16" stroke="#222" stroke-width="1.0"/>
<line x1="40.00" y1="384.27" x2="41.80" y2="384.27" stroke="#222" stroke-width="1.0"/>
<line x1="40.00" y1="372.51" x2="41.80" y2="372.51" stroke="#222" stroke-width="1.0"/>
<line x1="40.00" y1="366.62" x2="41.80" y2="366.62" stroke="#222" stroke-width="1.0"/>
<line x1="40.00" y1="360.74" x2="41.80" y2="360.74" stroke="#222" stroke-width="1.0"/>
<line x1="60.10" y1="541.30" x2="60.10" y2="545.90" stroke="#222" stroke-width="1.2"/>
<text x="60.1" y="556.4" font-size="8.6" font-weight="bold" fill="#111" stroke="#111" stroke-width="0.45" text-anchor="middle" textLength="9.8" lengthAdjust="spacingAndGlyphs">29</text>
<line x1="78.06" y1="541.30" x2="78.06" y2="545.90" stroke="#222" stroke-width="1.2"/>
<text x="78.055" y="556.4" font-size="8.6" font-weight="bold" fill="#111" stroke="#111" stroke-width="0.45" text-anchor="middle" textLength="9.8" lengthAdjust="spacingAndGlyphs">36</text>
<line x1="96.01" y1="541.30" x2="96.01" y2="545.90" stroke="#222" stroke-width="1.2"/>
<text x="96.00999999999999" y="556.4" font-size="8.6" font-weight="bold" fill="#111" stroke="#111" stroke-width="0.45" text-anchor="middle" textLength="9.8" lengthAdjust="spacingAndGlyphs">43</text>
<line x1="113.97" y1="541.30" x2="113.97" y2="545.90" stroke="#222" stroke-width="1.2"/>
<text x="113.965" y="556.4" font-size="8.6" font-weight="bold" fill="#111" stroke="#111" stroke-width="0.45" text-anchor="middle" textLength="9.8" lengthAdjust="spacingAndGlyphs">50</text>
<line x1="131.92" y1="541.30" x2="131.92" y2="545.90" stroke="#222" stroke-width="1.2"/>
<text x="131.92" y="556.4" font-size="8.6" font-weight="bold" fill="#111" stroke="#111" stroke-width="0.45" text-anchor="middle" textLength="9.8" lengthAdjust="spacingAndGlyphs">57</text>
<line x1="149.88" y1="541.30" x2="149.88" y2="545.90" stroke="#222" stroke-width="1.2"/>
<text x="149.875" y="556.4" font-size="8.6" font-weight="bold" fill="#111" stroke="#111" stroke-width="0.45" text-anchor="middle" textLength="9.8" lengthAdjust="spacingAndGlyphs">64</text>
<line x1="167.83" y1="541.30" x2="167.83" y2="545.90" stroke="#222" stroke-width="1.2"/>
<text x="167.83" y="556.4" font-size="8.6" font-weight="bold" fill="#111" stroke="#111" stroke-width="0.45" text-anchor="middle" textLength="9.8" lengthAdjust="spacingAndGlyphs">71</text>
<line x1="185.78" y1="541.30" x2="185.78" y2="545.90" stroke="#222" stroke-width="1.2"/>
<text x="185.785" y="556.4" font-size="8.6" font-weight="bold" fill="#111" stroke="#111" stroke-width="0.45" text-anchor="middle" textLength="9.8" lengthAdjust="spacingAndGlyphs">78</text>
<line x1="203.74" y1="541.30" x2="203.74" y2="545.90" stroke="#222" stroke-width="1.2"/>
<text x="203.73999999999998" y="556.4" font-size="8.6" font-weight="bold" fill="#111" stroke="#111" stroke-width="0.45" text-anchor="middle" textLength="9.8" lengthAdjust="spacingAndGlyphs">85</text>
<line x1="221.69" y1="541.30" x2="221.69" y2="545.90" stroke="#222" stroke-width="1.2"/>
<text x="221.695" y="556.4" font-size="8.6" font-weight="bold" fill="#111" stroke="#111" stroke-width="0.45" text-anchor="middle" textLength="9.8" lengthAdjust="spacingAndGlyphs">92</text>
<line x1="239.65" y1="541.30" x2="239.65" y2="545.90" stroke="#222" stroke-width="1.2"/>
<text x="239.64999999999998" y="556.4" font-size="8.6" font-weight="bold" fill="#111" stroke="#111" stroke-width="0.45" text-anchor="middle" textLength="9.8" lengthAdjust="spacingAndGlyphs">99</text>
<line x1="257.61" y1="541.30" x2="257.61" y2="545.90" stroke="#222" stroke-width="1.2"/>
<text x="257.605" y="556.4" font-size="8.6" font-weight="bold" fill="#111" stroke="#111" stroke-width="0.45" text-anchor="middle" textLength="15.0" lengthAdjust="spacingAndGlyphs">106</text>
<line x1="275.56" y1="541.30" x2="275.56" y2="545.90" stroke="#222" stroke-width="1.2"/>
<text x="275.56" y="556.4" font-size="8.6" font-weight="bold" fill="#111" stroke="#111" stroke-width="0.45" text-anchor="middle" textLength="15.0" lengthAdjust="spacingAndGlyphs">113</text>
<line x1="51.12" y1="543.10" x2="51.12" y2="544.90" stroke="#222" stroke-width="1.0"/>
<line x1="69.08" y1="543.10" x2="69.08" y2="544.90" stroke="#222" stroke-width="1.0"/>
<line x1="87.03" y1="543.10" x2="87.03" y2="544.90" stroke="#222" stroke-width="1.0"/>
<line x1="104.99" y1="543.10" x2="104.99" y2="544.90" stroke="#222" stroke-width="1.0"/>
<line x1="122.94" y1="543.10" x2="122.94" y2="544.90" stroke="#222" stroke-width="1.0"/>
<line x1="140.90" y1="543.10" x2="140.90" y2="544.90" stroke="#222" stroke-width="1.0"/>
<line x1="158.85" y1="543.10" x2="158.85" y2="544.90" stroke="#222" stroke-width="1.0"/>
<line x1="176.81" y1="543.10" x2="176.81" y2="544.90" stroke="#222" stroke-width="1.0"/>
<line x1="194.76" y1="543.10" x2="194.76" y2="544.90" stroke="#222" stroke-width="1.0"/>
<line x1="212.72" y1="543.10" x2="212.72" y2="544.90" stroke="#222" stroke-width="1.0"/>
<line x1="230.67" y1="543.10" x2="230.67" y2="544.90" stroke="#222" stroke-width="1.0"/>
<line x1="248.63" y1="543.10" x2="248.63" y2="544.90" stroke="#222" stroke-width="1.0"/>
<line x1="266.58" y1="543.10" x2="266.58" y2="544.90" stroke="#222" stroke-width="1.0"/>
<line x1="42.15" y1="543.10" x2="42.15" y2="541.30" stroke="#222" stroke-width="1.0"/>
<text x="96.7" y="570.8" font-size="9.8" font-weight="bold" fill="#111" stroke="#111" stroke-width="0.45" textLength="122.0" lengthAdjust="spacingAndGlyphs">Days post cell inoculation</text>
<g transform="translate(15.1,514.0) rotate(-90)">
<text x="0" y="0" font-size="10.2" font-weight="bold" fill="#111" stroke="#111" stroke-width="0.45" textLength="126.0" lengthAdjust="spacingAndGlyphs">Mean tumor volume (mm</text>
<text x="127.1" y="-6.1" font-size="7.4" font-weight="bold" fill="#111" stroke="#111" stroke-width="0.2">3</text>
<text x="130.7" y="0" font-size="10.2" font-weight="bold" fill="#111" stroke="#111" stroke-width="0.45">)</text>
</g>
<polyline points="75.60,527.50 85.80,522.20 93.30,517.10 106.40,508.80 121.40,509.00 131.80,494.00 147.00,494.00 157.40,480.80 167.80,480.70 178.20,457.20 185.40,454.70 198.60,440.60 211.10,444.00 219.00,422.70 229.00,422.70 236.80,399.50" fill="none" stroke="#000" stroke-width="1.5" stroke-linejoin="round"/>
<rect x="73.20" y="525.10" width="4.8" height="4.8" fill="#000"/>
<rect x="83.40" y="519.80" width="4.8" height="4.8" fill="#000"/>
<rect x="90.90" y="514.70" width="4.8" height="4.8" fill="#000"/>
<rect x="104.00" y="506.40" width="4.8" height="4.8" fill="#000"/>
<rect x="119.00" y="506.60" width="4.8" height="4.8" fill="#000"/>
<rect x="129.40" y="491.60" width="4.8" height="4.8" fill="#000"/>
<rect x="144.60" y="491.60" width="4.8" height="4.8" fill="#000"/>
<rect x="155.00" y="478.40" width="4.8" height="4.8" fill="#000"/>
<rect x="165.40" y="478.30" width="4.8" height="4.8" fill="#000"/>
<rect x="175.80" y="454.80" width="4.8" height="4.8" fill="#000"/>
<rect x="183.00" y="452.30" width="4.8" height="4.8" fill="#000"/>
<rect x="196.20" y="438.20" width="4.8" height="4.8" fill="#000"/>
<rect x="208.70" y="441.60" width="4.8" height="4.8" fill="#000"/>
<rect x="216.60" y="420.30" width="4.8" height="4.8" fill="#000"/>
<rect x="226.60" y="420.30" width="4.8" height="4.8" fill="#000"/>
<rect x="234.40" y="397.10" width="4.8" height="4.8" fill="#000"/>
<polyline points="75.70,529.00 85.80,527.00 93.50,523.00 106.50,522.80 121.40,524.80 131.80,523.60 147.40,531.20 157.40,531.20 167.60,531.20 178.10,529.30 185.40,530.80 198.60,525.50 211.10,531.80 219.00,532.40 229.00,535.00 236.80,529.30" fill="none" stroke="#e01818" stroke-width="1.5" stroke-linejoin="round"/>
<polygon points="75.70,526.40 78.56,531.08 72.84,531.08" fill="#e01818"/>
<polygon points="85.80,524.40 88.66,529.08 82.94,529.08" fill="#e01818"/>
<polygon points="93.50,520.40 96.36,525.08 90.64,525.08" fill="#e01818"/>
<polygon points="106.50,520.20 109.36,524.88 103.64,524.88" fill="#e01818"/>
<polygon points="121.40,522.20 124.26,526.88 118.54,526.88" fill="#e01818"/>
<polygon points="131.80,521.00 134.66,525.68 128.94,525.68" fill="#e01818"/>
<polygon points="147.40,528.60 150.26,533.28 144.54,533.28" fill="#e01818"/>
<polygon points="157.40,528.60 160.26,533.28 154.54,533.28" fill="#e01818"/>
<polygon points="167.60,528.60 170.46,533.28 164.74,533.28" fill="#e01818"/>
<polygon points="178.10,526.70 180.96,531.38 175.24,531.38" fill="#e01818"/>
<polygon points="185.40,528.20 188.26,532.88 182.54,532.88" fill="#e01818"/>
<polygon points="198.60,522.90 201.46,527.58 195.74,527.58" fill="#e01818"/>
<polygon points="211.10,529.20 213.96,533.88 208.24,533.88" fill="#e01818"/>
<polygon points="219.00,529.80 221.86,534.48 216.14,534.48" fill="#e01818"/>
<polygon points="229.00,532.40 231.86,537.08 226.14,537.08" fill="#e01818"/>
<polygon points="236.80,526.70 239.66,531.38 233.94,531.38" fill="#e01818"/>
<polyline points="75.70,528.80 85.80,530.80 93.50,525.00 106.50,527.30 121.40,525.90 131.80,522.90 147.40,526.80 157.40,526.80 167.60,527.20 178.10,522.30 185.40,525.50 198.60,522.00 211.10,527.00 219.00,524.60 229.00,527.70 236.80,523.00" fill="none" stroke="#1010c8" stroke-width="1.6" stroke-linejoin="round"/>
<circle cx="75.70" cy="528.80" r="2.6" fill="#1010c8" stroke="none" stroke-width="0"/>
<circle cx="85.80" cy="530.80" r="2.6" fill="#1010c8" stroke="none" stroke-width="0"/>
<circle cx="93.50" cy="525.00" r="2.6" fill="#1010c8" stroke="none" stroke-width="0"/>
<circle cx="106.50" cy="527.30" r="2.6" fill="#1010c8" stroke="none" stroke-width="0"/>
<circle cx="121.40" cy="525.90" r="2.6" fill="#1010c8" stroke="none" stroke-width="0"/>
<circle cx="131.80" cy="522.90" r="2.6" fill="#1010c8" stroke="none" stroke-width="0"/>
<circle cx="147.40" cy="526.80" r="2.6" fill="#1010c8" stroke="none" stroke-width="0"/>
<circle cx="157.40" cy="526.80" r="2.6" fill="#1010c8" stroke="none" stroke-width="0"/>
<circle cx="167.60" cy="527.20" r="2.6" fill="#1010c8" stroke="none" stroke-width="0"/>
<circle cx="178.10" cy="522.30" r="2.6" fill="#1010c8" stroke="none" stroke-width="0"/>
<circle cx="185.40" cy="525.50" r="2.6" fill="#1010c8" stroke="none" stroke-width="0"/>
<circle cx="198.60" cy="522.00" r="2.6" fill="#1010c8" stroke="none" stroke-width="0"/>
<circle cx="211.10" cy="527.00" r="2.6" fill="#1010c8" stroke="none" stroke-width="0"/>
<circle cx="219.00" cy="524.60" r="2.6" fill="#1010c8" stroke="none" stroke-width="0"/>
<circle cx="229.00" cy="527.70" r="2.6" fill="#1010c8" stroke="none" stroke-width="0"/>
<circle cx="236.80" cy="523.00" r="2.6" fill="#1010c8" stroke="none" stroke-width="0"/>
<rect x="75.80" y="368.30" width="5.4" height="5.4" fill="#000"/>
<polygon points="78.60,380.20 81.90,385.60 75.30,385.60" fill="#e01818"/>
<circle cx="78.90" cy="394.30" r="2.8" fill="#1010c8" stroke="none" stroke-width="0"/>
<text x="89.7" y="374.6" font-size="10.0" font-weight="bold" fill="#111" stroke="#111" stroke-width="0.45" textLength="51.4" lengthAdjust="spacingAndGlyphs">hIgG-MMAE</text>
<text x="89.7" y="387.1" font-size="10.0" font-weight="bold" fill="#111" stroke="#111" stroke-width="0.45" textLength="47.5" lengthAdjust="spacingAndGlyphs">Depatux-m</text>
<text x="89.7" y="397.8" font-size="10.0" font-weight="bold" fill="#111" stroke="#111" stroke-width="0.45" textLength="41.1" lengthAdjust="spacingAndGlyphs">ABBV-221</text>
</g></svg>
</body></html>
